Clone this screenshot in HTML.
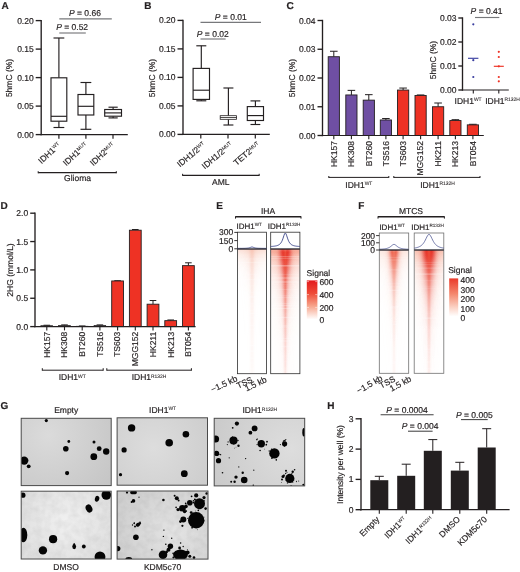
<!DOCTYPE html>
<html lang="en"><head><meta charset="utf-8"><title>Figure</title><style>html,body{margin:0;padding:0;background:#fff}svg{display:block}</style></head><body><svg width="520" height="572" viewBox="0 0 520 572" font-family="'Liberation Sans', Arial, Helvetica, sans-serif" text-rendering="geometricPrecision"><defs><linearGradient id="h1_0" x1="0" x2="1" y1="0" y2="0"><stop offset="0.000" stop-color="#f8c4b2" stop-opacity="0.895"/><stop offset="0.042" stop-color="#f8c4b2" stop-opacity="0.911"/><stop offset="0.083" stop-color="#f8c4b2" stop-opacity="0.926"/><stop offset="0.125" stop-color="#f8c4b2" stop-opacity="0.939"/><stop offset="0.167" stop-color="#f8c4b2" stop-opacity="0.952"/><stop offset="0.208" stop-color="#f8c4b2" stop-opacity="0.963"/><stop offset="0.250" stop-color="#f8c4b2" stop-opacity="0.973"/><stop offset="0.292" stop-color="#f8c4b2" stop-opacity="0.981"/><stop offset="0.333" stop-color="#f8c4b2" stop-opacity="0.988"/><stop offset="0.375" stop-color="#f8c4b2" stop-opacity="0.993"/><stop offset="0.417" stop-color="#f8c4b2" stop-opacity="0.997"/><stop offset="0.458" stop-color="#f8c4b2" stop-opacity="0.999"/><stop offset="0.500" stop-color="#f8c4b2" stop-opacity="1.000"/><stop offset="0.542" stop-color="#f8c4b2" stop-opacity="0.999"/><stop offset="0.583" stop-color="#f8c4b2" stop-opacity="0.997"/><stop offset="0.625" stop-color="#f8c4b2" stop-opacity="0.993"/><stop offset="0.667" stop-color="#f8c4b2" stop-opacity="0.988"/><stop offset="0.708" stop-color="#f8c4b2" stop-opacity="0.981"/><stop offset="0.750" stop-color="#f8c4b2" stop-opacity="0.973"/><stop offset="0.792" stop-color="#f8c4b2" stop-opacity="0.963"/><stop offset="0.833" stop-color="#f8c4b2" stop-opacity="0.952"/><stop offset="0.875" stop-color="#f8c4b2" stop-opacity="0.939"/><stop offset="0.917" stop-color="#f8c4b2" stop-opacity="0.926"/><stop offset="0.958" stop-color="#f8c4b2" stop-opacity="0.911"/><stop offset="1.000" stop-color="#f8c4b2" stop-opacity="0.895"/></linearGradient><linearGradient id="m1_0g" x1="0" x2="0" y1="0" y2="1"><stop offset="0.000" stop-color="rgb(140,140,140)"/><stop offset="0.050" stop-color="rgb(70,70,70)"/><stop offset="0.100" stop-color="rgb(35,35,35)"/><stop offset="0.150" stop-color="rgb(17,17,17)"/><stop offset="0.200" stop-color="rgb(9,9,9)"/><stop offset="0.250" stop-color="rgb(4,4,4)"/><stop offset="0.300" stop-color="rgb(2,2,2)"/><stop offset="0.350" stop-color="rgb(1,1,1)"/><stop offset="0.400" stop-color="rgb(1,1,1)"/><stop offset="0.450" stop-color="rgb(0,0,0)"/><stop offset="0.500" stop-color="rgb(0,0,0)"/><stop offset="0.550" stop-color="rgb(0,0,0)"/><stop offset="0.600" stop-color="rgb(0,0,0)"/><stop offset="0.650" stop-color="rgb(0,0,0)"/><stop offset="0.700" stop-color="rgb(0,0,0)"/><stop offset="0.750" stop-color="rgb(0,0,0)"/><stop offset="0.800" stop-color="rgb(0,0,0)"/><stop offset="0.850" stop-color="rgb(0,0,0)"/><stop offset="0.900" stop-color="rgb(0,0,0)"/><stop offset="0.950" stop-color="rgb(0,0,0)"/><stop offset="1.000" stop-color="rgb(0,0,0)"/></linearGradient><mask id="m1_0" maskUnits="userSpaceOnUse" x="237.5" y="249.0" width="29.0" height="124.69999999999999"><rect x="237.5" y="249.0" width="29.0" height="124.69999999999999" fill="url(#m1_0g)"/></mask><linearGradient id="h1_1" x1="0" x2="1" y1="0" y2="0"><stop offset="0.000" stop-color="#f6b29d" stop-opacity="0.006"/><stop offset="0.042" stop-color="#f6b29d" stop-opacity="0.013"/><stop offset="0.083" stop-color="#f6b29d" stop-opacity="0.028"/><stop offset="0.125" stop-color="#f6b29d" stop-opacity="0.055"/><stop offset="0.167" stop-color="#f6b29d" stop-opacity="0.101"/><stop offset="0.208" stop-color="#f6b29d" stop-opacity="0.172"/><stop offset="0.250" stop-color="#f6b29d" stop-opacity="0.275"/><stop offset="0.292" stop-color="#f6b29d" stop-opacity="0.408"/><stop offset="0.333" stop-color="#f6b29d" stop-opacity="0.563"/><stop offset="0.375" stop-color="#f6b29d" stop-opacity="0.724"/><stop offset="0.417" stop-color="#f6b29d" stop-opacity="0.866"/><stop offset="0.458" stop-color="#f6b29d" stop-opacity="0.965"/><stop offset="0.500" stop-color="#f6b29d" stop-opacity="1.000"/><stop offset="0.542" stop-color="#f6b29d" stop-opacity="0.965"/><stop offset="0.583" stop-color="#f6b29d" stop-opacity="0.866"/><stop offset="0.625" stop-color="#f6b29d" stop-opacity="0.724"/><stop offset="0.667" stop-color="#f6b29d" stop-opacity="0.563"/><stop offset="0.708" stop-color="#f6b29d" stop-opacity="0.408"/><stop offset="0.750" stop-color="#f6b29d" stop-opacity="0.275"/><stop offset="0.792" stop-color="#f6b29d" stop-opacity="0.172"/><stop offset="0.833" stop-color="#f6b29d" stop-opacity="0.101"/><stop offset="0.875" stop-color="#f6b29d" stop-opacity="0.055"/><stop offset="0.917" stop-color="#f6b29d" stop-opacity="0.028"/><stop offset="0.958" stop-color="#f6b29d" stop-opacity="0.013"/><stop offset="1.000" stop-color="#f6b29d" stop-opacity="0.006"/></linearGradient><linearGradient id="m1_1g" x1="0" x2="0" y1="0" y2="1"><stop offset="0.000" stop-color="rgb(76,76,76)"/><stop offset="0.050" stop-color="rgb(57,57,57)"/><stop offset="0.100" stop-color="rgb(42,42,42)"/><stop offset="0.150" stop-color="rgb(31,31,31)"/><stop offset="0.200" stop-color="rgb(23,23,23)"/><stop offset="0.250" stop-color="rgb(17,17,17)"/><stop offset="0.300" stop-color="rgb(13,13,13)"/><stop offset="0.350" stop-color="rgb(9,9,9)"/><stop offset="0.400" stop-color="rgb(7,7,7)"/><stop offset="0.450" stop-color="rgb(5,5,5)"/><stop offset="0.500" stop-color="rgb(4,4,4)"/><stop offset="0.550" stop-color="rgb(3,3,3)"/><stop offset="0.600" stop-color="rgb(2,2,2)"/><stop offset="0.650" stop-color="rgb(2,2,2)"/><stop offset="0.700" stop-color="rgb(1,1,1)"/><stop offset="0.750" stop-color="rgb(1,1,1)"/><stop offset="0.800" stop-color="rgb(1,1,1)"/><stop offset="0.850" stop-color="rgb(0,0,0)"/><stop offset="0.900" stop-color="rgb(0,0,0)"/><stop offset="0.950" stop-color="rgb(0,0,0)"/><stop offset="1.000" stop-color="rgb(0,0,0)"/></linearGradient><mask id="m1_1" maskUnits="userSpaceOnUse" x="237.5" y="249.0" width="29.0" height="124.69999999999999"><rect x="237.5" y="249.0" width="29.0" height="124.69999999999999" fill="url(#m1_1g)"/></mask><linearGradient id="h1_2" x1="0" x2="1" y1="0" y2="0"><stop offset="0.000" stop-color="#f4a58e" stop-opacity="0.000"/><stop offset="0.042" stop-color="#f4a58e" stop-opacity="0.000"/><stop offset="0.083" stop-color="#f4a58e" stop-opacity="0.000"/><stop offset="0.125" stop-color="#f4a58e" stop-opacity="0.000"/><stop offset="0.167" stop-color="#f4a58e" stop-opacity="0.000"/><stop offset="0.208" stop-color="#f4a58e" stop-opacity="0.000"/><stop offset="0.250" stop-color="#f4a58e" stop-opacity="0.000"/><stop offset="0.292" stop-color="#f4a58e" stop-opacity="0.000"/><stop offset="0.333" stop-color="#f4a58e" stop-opacity="0.003"/><stop offset="0.375" stop-color="#f4a58e" stop-opacity="0.041"/><stop offset="0.417" stop-color="#f4a58e" stop-opacity="0.242"/><stop offset="0.458" stop-color="#f4a58e" stop-opacity="0.702"/><stop offset="0.500" stop-color="#f4a58e" stop-opacity="1.000"/><stop offset="0.542" stop-color="#f4a58e" stop-opacity="0.702"/><stop offset="0.583" stop-color="#f4a58e" stop-opacity="0.242"/><stop offset="0.625" stop-color="#f4a58e" stop-opacity="0.041"/><stop offset="0.667" stop-color="#f4a58e" stop-opacity="0.003"/><stop offset="0.708" stop-color="#f4a58e" stop-opacity="0.000"/><stop offset="0.750" stop-color="#f4a58e" stop-opacity="0.000"/><stop offset="0.792" stop-color="#f4a58e" stop-opacity="0.000"/><stop offset="0.833" stop-color="#f4a58e" stop-opacity="0.000"/><stop offset="0.875" stop-color="#f4a58e" stop-opacity="0.000"/><stop offset="0.917" stop-color="#f4a58e" stop-opacity="0.000"/><stop offset="0.958" stop-color="#f4a58e" stop-opacity="0.000"/><stop offset="1.000" stop-color="#f4a58e" stop-opacity="0.000"/></linearGradient><linearGradient id="m1_2g" x1="0" x2="0" y1="0" y2="1"><stop offset="0.000" stop-color="rgb(82,82,82)"/><stop offset="0.050" stop-color="rgb(73,73,73)"/><stop offset="0.100" stop-color="rgb(66,66,66)"/><stop offset="0.150" stop-color="rgb(59,59,59)"/><stop offset="0.200" stop-color="rgb(54,54,54)"/><stop offset="0.250" stop-color="rgb(48,48,48)"/><stop offset="0.300" stop-color="rgb(44,44,44)"/><stop offset="0.350" stop-color="rgb(40,40,40)"/><stop offset="0.400" stop-color="rgb(36,36,36)"/><stop offset="0.450" stop-color="rgb(33,33,33)"/><stop offset="0.500" stop-color="rgb(31,31,31)"/><stop offset="0.550" stop-color="rgb(28,28,28)"/><stop offset="0.600" stop-color="rgb(26,26,26)"/><stop offset="0.650" stop-color="rgb(24,24,24)"/><stop offset="0.700" stop-color="rgb(23,23,23)"/><stop offset="0.750" stop-color="rgb(21,21,21)"/><stop offset="0.800" stop-color="rgb(20,20,20)"/><stop offset="0.850" stop-color="rgb(19,19,19)"/><stop offset="0.900" stop-color="rgb(18,18,18)"/><stop offset="0.950" stop-color="rgb(17,17,17)"/><stop offset="1.000" stop-color="rgb(16,16,16)"/></linearGradient><mask id="m1_2" maskUnits="userSpaceOnUse" x="237.5" y="249.0" width="29.0" height="124.69999999999999"><rect x="237.5" y="249.0" width="29.0" height="124.69999999999999" fill="url(#m1_2g)"/></mask><linearGradient id="h2_0" x1="0" x2="1" y1="0" y2="0"><stop offset="0.000" stop-color="#f6957f" stop-opacity="0.895"/><stop offset="0.042" stop-color="#f6957f" stop-opacity="0.911"/><stop offset="0.083" stop-color="#f6957f" stop-opacity="0.926"/><stop offset="0.125" stop-color="#f6957f" stop-opacity="0.939"/><stop offset="0.167" stop-color="#f6957f" stop-opacity="0.952"/><stop offset="0.208" stop-color="#f6957f" stop-opacity="0.963"/><stop offset="0.250" stop-color="#f6957f" stop-opacity="0.973"/><stop offset="0.292" stop-color="#f6957f" stop-opacity="0.981"/><stop offset="0.333" stop-color="#f6957f" stop-opacity="0.988"/><stop offset="0.375" stop-color="#f6957f" stop-opacity="0.993"/><stop offset="0.417" stop-color="#f6957f" stop-opacity="0.997"/><stop offset="0.458" stop-color="#f6957f" stop-opacity="0.999"/><stop offset="0.500" stop-color="#f6957f" stop-opacity="1.000"/><stop offset="0.542" stop-color="#f6957f" stop-opacity="0.999"/><stop offset="0.583" stop-color="#f6957f" stop-opacity="0.997"/><stop offset="0.625" stop-color="#f6957f" stop-opacity="0.993"/><stop offset="0.667" stop-color="#f6957f" stop-opacity="0.988"/><stop offset="0.708" stop-color="#f6957f" stop-opacity="0.981"/><stop offset="0.750" stop-color="#f6957f" stop-opacity="0.973"/><stop offset="0.792" stop-color="#f6957f" stop-opacity="0.963"/><stop offset="0.833" stop-color="#f6957f" stop-opacity="0.952"/><stop offset="0.875" stop-color="#f6957f" stop-opacity="0.939"/><stop offset="0.917" stop-color="#f6957f" stop-opacity="0.926"/><stop offset="0.958" stop-color="#f6957f" stop-opacity="0.911"/><stop offset="1.000" stop-color="#f6957f" stop-opacity="0.895"/></linearGradient><linearGradient id="m2_0g" x1="0" x2="0" y1="0" y2="1"><stop offset="0.000" stop-color="rgb(255,255,255)"/><stop offset="0.050" stop-color="rgb(163,163,163)"/><stop offset="0.100" stop-color="rgb(104,104,104)"/><stop offset="0.150" stop-color="rgb(66,66,66)"/><stop offset="0.200" stop-color="rgb(42,42,42)"/><stop offset="0.250" stop-color="rgb(27,27,27)"/><stop offset="0.300" stop-color="rgb(17,17,17)"/><stop offset="0.350" stop-color="rgb(11,11,11)"/><stop offset="0.400" stop-color="rgb(7,7,7)"/><stop offset="0.450" stop-color="rgb(4,4,4)"/><stop offset="0.500" stop-color="rgb(3,3,3)"/><stop offset="0.550" stop-color="rgb(2,2,2)"/><stop offset="0.600" stop-color="rgb(1,1,1)"/><stop offset="0.650" stop-color="rgb(1,1,1)"/><stop offset="0.700" stop-color="rgb(0,0,0)"/><stop offset="0.750" stop-color="rgb(0,0,0)"/><stop offset="0.800" stop-color="rgb(0,0,0)"/><stop offset="0.850" stop-color="rgb(0,0,0)"/><stop offset="0.900" stop-color="rgb(0,0,0)"/><stop offset="0.950" stop-color="rgb(0,0,0)"/><stop offset="1.000" stop-color="rgb(0,0,0)"/></linearGradient><mask id="m2_0" maskUnits="userSpaceOnUse" x="270.7" y="249.0" width="29.19999999999999" height="124.69999999999999"><rect x="270.7" y="249.0" width="29.19999999999999" height="124.69999999999999" fill="url(#m2_0g)"/></mask><linearGradient id="h2_1" x1="0" x2="1" y1="0" y2="0"><stop offset="0.000" stop-color="#f8b09c" stop-opacity="0.115"/><stop offset="0.042" stop-color="#f8b09c" stop-opacity="0.162"/><stop offset="0.083" stop-color="#f8b09c" stop-opacity="0.223"/><stop offset="0.125" stop-color="#f8b09c" stop-opacity="0.296"/><stop offset="0.167" stop-color="#f8b09c" stop-opacity="0.382"/><stop offset="0.208" stop-color="#f8b09c" stop-opacity="0.479"/><stop offset="0.250" stop-color="#f8b09c" stop-opacity="0.582"/><stop offset="0.292" stop-color="#f8b09c" stop-opacity="0.687"/><stop offset="0.333" stop-color="#f8b09c" stop-opacity="0.786"/><stop offset="0.375" stop-color="#f8b09c" stop-opacity="0.874"/><stop offset="0.417" stop-color="#f8b09c" stop-opacity="0.942"/><stop offset="0.458" stop-color="#f8b09c" stop-opacity="0.985"/><stop offset="0.500" stop-color="#f8b09c" stop-opacity="1.000"/><stop offset="0.542" stop-color="#f8b09c" stop-opacity="0.985"/><stop offset="0.583" stop-color="#f8b09c" stop-opacity="0.942"/><stop offset="0.625" stop-color="#f8b09c" stop-opacity="0.874"/><stop offset="0.667" stop-color="#f8b09c" stop-opacity="0.786"/><stop offset="0.708" stop-color="#f8b09c" stop-opacity="0.687"/><stop offset="0.750" stop-color="#f8b09c" stop-opacity="0.582"/><stop offset="0.792" stop-color="#f8b09c" stop-opacity="0.479"/><stop offset="0.833" stop-color="#f8b09c" stop-opacity="0.382"/><stop offset="0.875" stop-color="#f8b09c" stop-opacity="0.296"/><stop offset="0.917" stop-color="#f8b09c" stop-opacity="0.223"/><stop offset="0.958" stop-color="#f8b09c" stop-opacity="0.162"/><stop offset="1.000" stop-color="#f8b09c" stop-opacity="0.115"/></linearGradient><linearGradient id="m2_1g" x1="0" x2="0" y1="0" y2="1"><stop offset="0.000" stop-color="rgb(140,140,140)"/><stop offset="0.050" stop-color="rgb(120,120,120)"/><stop offset="0.100" stop-color="rgb(102,102,102)"/><stop offset="0.150" stop-color="rgb(87,87,87)"/><stop offset="0.200" stop-color="rgb(74,74,74)"/><stop offset="0.250" stop-color="rgb(63,63,63)"/><stop offset="0.300" stop-color="rgb(54,54,54)"/><stop offset="0.350" stop-color="rgb(46,46,46)"/><stop offset="0.400" stop-color="rgb(39,39,39)"/><stop offset="0.450" stop-color="rgb(33,33,33)"/><stop offset="0.500" stop-color="rgb(28,28,28)"/><stop offset="0.550" stop-color="rgb(24,24,24)"/><stop offset="0.600" stop-color="rgb(21,21,21)"/><stop offset="0.650" stop-color="rgb(18,18,18)"/><stop offset="0.700" stop-color="rgb(15,15,15)"/><stop offset="0.750" stop-color="rgb(13,13,13)"/><stop offset="0.800" stop-color="rgb(11,11,11)"/><stop offset="0.850" stop-color="rgb(9,9,9)"/><stop offset="0.900" stop-color="rgb(8,8,8)"/><stop offset="0.950" stop-color="rgb(7,7,7)"/><stop offset="1.000" stop-color="rgb(6,6,6)"/></linearGradient><mask id="m2_1" maskUnits="userSpaceOnUse" x="270.7" y="249.0" width="29.19999999999999" height="124.69999999999999"><rect x="270.7" y="249.0" width="29.19999999999999" height="124.69999999999999" fill="url(#m2_1g)"/></mask><linearGradient id="h2_2" x1="0" x2="1" y1="0" y2="0"><stop offset="0.000" stop-color="#e3241d" stop-opacity="0.000"/><stop offset="0.042" stop-color="#e3241d" stop-opacity="0.000"/><stop offset="0.083" stop-color="#e3241d" stop-opacity="0.001"/><stop offset="0.125" stop-color="#e3241d" stop-opacity="0.006"/><stop offset="0.167" stop-color="#e3241d" stop-opacity="0.023"/><stop offset="0.208" stop-color="#e3241d" stop-opacity="0.069"/><stop offset="0.250" stop-color="#e3241d" stop-opacity="0.168"/><stop offset="0.292" stop-color="#e3241d" stop-opacity="0.329"/><stop offset="0.333" stop-color="#e3241d" stop-opacity="0.537"/><stop offset="0.375" stop-color="#e3241d" stop-opacity="0.745"/><stop offset="0.417" stop-color="#e3241d" stop-opacity="0.902"/><stop offset="0.458" stop-color="#e3241d" stop-opacity="0.983"/><stop offset="0.500" stop-color="#e3241d" stop-opacity="1.000"/><stop offset="0.542" stop-color="#e3241d" stop-opacity="0.983"/><stop offset="0.583" stop-color="#e3241d" stop-opacity="0.902"/><stop offset="0.625" stop-color="#e3241d" stop-opacity="0.745"/><stop offset="0.667" stop-color="#e3241d" stop-opacity="0.537"/><stop offset="0.708" stop-color="#e3241d" stop-opacity="0.329"/><stop offset="0.750" stop-color="#e3241d" stop-opacity="0.168"/><stop offset="0.792" stop-color="#e3241d" stop-opacity="0.069"/><stop offset="0.833" stop-color="#e3241d" stop-opacity="0.023"/><stop offset="0.875" stop-color="#e3241d" stop-opacity="0.006"/><stop offset="0.917" stop-color="#e3241d" stop-opacity="0.001"/><stop offset="0.958" stop-color="#e3241d" stop-opacity="0.000"/><stop offset="1.000" stop-color="#e3241d" stop-opacity="0.000"/></linearGradient><linearGradient id="m2_2g" x1="0" x2="0" y1="0" y2="1"><stop offset="0.000" stop-color="rgb(255,255,255)"/><stop offset="0.050" stop-color="rgb(214,214,214)"/><stop offset="0.100" stop-color="rgb(143,143,143)"/><stop offset="0.150" stop-color="rgb(96,96,96)"/><stop offset="0.200" stop-color="rgb(64,64,64)"/><stop offset="0.250" stop-color="rgb(43,43,43)"/><stop offset="0.300" stop-color="rgb(29,29,29)"/><stop offset="0.350" stop-color="rgb(19,19,19)"/><stop offset="0.400" stop-color="rgb(13,13,13)"/><stop offset="0.450" stop-color="rgb(9,9,9)"/><stop offset="0.500" stop-color="rgb(6,6,6)"/><stop offset="0.550" stop-color="rgb(4,4,4)"/><stop offset="0.600" stop-color="rgb(3,3,3)"/><stop offset="0.650" stop-color="rgb(2,2,2)"/><stop offset="0.700" stop-color="rgb(1,1,1)"/><stop offset="0.750" stop-color="rgb(1,1,1)"/><stop offset="0.800" stop-color="rgb(1,1,1)"/><stop offset="0.850" stop-color="rgb(0,0,0)"/><stop offset="0.900" stop-color="rgb(0,0,0)"/><stop offset="0.950" stop-color="rgb(0,0,0)"/><stop offset="1.000" stop-color="rgb(0,0,0)"/></linearGradient><mask id="m2_2" maskUnits="userSpaceOnUse" x="270.7" y="249.0" width="29.19999999999999" height="124.69999999999999"><rect x="270.7" y="249.0" width="29.19999999999999" height="124.69999999999999" fill="url(#m2_2g)"/></mask><linearGradient id="h2_3" x1="0" x2="1" y1="0" y2="0"><stop offset="0.000" stop-color="#e8382b" stop-opacity="0.000"/><stop offset="0.042" stop-color="#e8382b" stop-opacity="0.000"/><stop offset="0.083" stop-color="#e8382b" stop-opacity="0.000"/><stop offset="0.125" stop-color="#e8382b" stop-opacity="0.000"/><stop offset="0.167" stop-color="#e8382b" stop-opacity="0.000"/><stop offset="0.208" stop-color="#e8382b" stop-opacity="0.000"/><stop offset="0.250" stop-color="#e8382b" stop-opacity="0.001"/><stop offset="0.292" stop-color="#e8382b" stop-opacity="0.008"/><stop offset="0.333" stop-color="#e8382b" stop-opacity="0.046"/><stop offset="0.375" stop-color="#e8382b" stop-opacity="0.177"/><stop offset="0.417" stop-color="#e8382b" stop-opacity="0.463"/><stop offset="0.458" stop-color="#e8382b" stop-opacity="0.825"/><stop offset="0.500" stop-color="#e8382b" stop-opacity="1.000"/><stop offset="0.542" stop-color="#e8382b" stop-opacity="0.825"/><stop offset="0.583" stop-color="#e8382b" stop-opacity="0.463"/><stop offset="0.625" stop-color="#e8382b" stop-opacity="0.177"/><stop offset="0.667" stop-color="#e8382b" stop-opacity="0.046"/><stop offset="0.708" stop-color="#e8382b" stop-opacity="0.008"/><stop offset="0.750" stop-color="#e8382b" stop-opacity="0.001"/><stop offset="0.792" stop-color="#e8382b" stop-opacity="0.000"/><stop offset="0.833" stop-color="#e8382b" stop-opacity="0.000"/><stop offset="0.875" stop-color="#e8382b" stop-opacity="0.000"/><stop offset="0.917" stop-color="#e8382b" stop-opacity="0.000"/><stop offset="0.958" stop-color="#e8382b" stop-opacity="0.000"/><stop offset="1.000" stop-color="#e8382b" stop-opacity="0.000"/></linearGradient><linearGradient id="m2_3g" x1="0" x2="0" y1="0" y2="1"><stop offset="0.000" stop-color="rgb(255,255,255)"/><stop offset="0.050" stop-color="rgb(215,215,215)"/><stop offset="0.100" stop-color="rgb(182,182,182)"/><stop offset="0.150" stop-color="rgb(153,153,153)"/><stop offset="0.200" stop-color="rgb(129,129,129)"/><stop offset="0.250" stop-color="rgb(109,109,109)"/><stop offset="0.300" stop-color="rgb(92,92,92)"/><stop offset="0.350" stop-color="rgb(78,78,78)"/><stop offset="0.400" stop-color="rgb(65,65,65)"/><stop offset="0.450" stop-color="rgb(55,55,55)"/><stop offset="0.500" stop-color="rgb(47,47,47)"/><stop offset="0.550" stop-color="rgb(39,39,39)"/><stop offset="0.600" stop-color="rgb(33,33,33)"/><stop offset="0.650" stop-color="rgb(28,28,28)"/><stop offset="0.700" stop-color="rgb(24,24,24)"/><stop offset="0.750" stop-color="rgb(20,20,20)"/><stop offset="0.800" stop-color="rgb(17,17,17)"/><stop offset="0.850" stop-color="rgb(14,14,14)"/><stop offset="0.900" stop-color="rgb(12,12,12)"/><stop offset="0.950" stop-color="rgb(10,10,10)"/><stop offset="1.000" stop-color="rgb(9,9,9)"/></linearGradient><mask id="m2_3" maskUnits="userSpaceOnUse" x="270.7" y="249.0" width="29.19999999999999" height="124.69999999999999"><rect x="270.7" y="249.0" width="29.19999999999999" height="124.69999999999999" fill="url(#m2_3g)"/></mask><linearGradient id="h2_4" x1="0" x2="1" y1="0" y2="0"><stop offset="0.000" stop-color="#ee5540" stop-opacity="0.000"/><stop offset="0.042" stop-color="#ee5540" stop-opacity="0.000"/><stop offset="0.083" stop-color="#ee5540" stop-opacity="0.000"/><stop offset="0.125" stop-color="#ee5540" stop-opacity="0.000"/><stop offset="0.167" stop-color="#ee5540" stop-opacity="0.000"/><stop offset="0.208" stop-color="#ee5540" stop-opacity="0.000"/><stop offset="0.250" stop-color="#ee5540" stop-opacity="0.000"/><stop offset="0.292" stop-color="#ee5540" stop-opacity="0.000"/><stop offset="0.333" stop-color="#ee5540" stop-opacity="0.000"/><stop offset="0.375" stop-color="#ee5540" stop-opacity="0.000"/><stop offset="0.417" stop-color="#ee5540" stop-opacity="0.013"/><stop offset="0.458" stop-color="#ee5540" stop-opacity="0.338"/><stop offset="0.500" stop-color="#ee5540" stop-opacity="1.000"/><stop offset="0.542" stop-color="#ee5540" stop-opacity="0.338"/><stop offset="0.583" stop-color="#ee5540" stop-opacity="0.013"/><stop offset="0.625" stop-color="#ee5540" stop-opacity="0.000"/><stop offset="0.667" stop-color="#ee5540" stop-opacity="0.000"/><stop offset="0.708" stop-color="#ee5540" stop-opacity="0.000"/><stop offset="0.750" stop-color="#ee5540" stop-opacity="0.000"/><stop offset="0.792" stop-color="#ee5540" stop-opacity="0.000"/><stop offset="0.833" stop-color="#ee5540" stop-opacity="0.000"/><stop offset="0.875" stop-color="#ee5540" stop-opacity="0.000"/><stop offset="0.917" stop-color="#ee5540" stop-opacity="0.000"/><stop offset="0.958" stop-color="#ee5540" stop-opacity="0.000"/><stop offset="1.000" stop-color="#ee5540" stop-opacity="0.000"/></linearGradient><linearGradient id="m2_4g" x1="0" x2="0" y1="0" y2="1"><stop offset="0.000" stop-color="rgb(217,217,217)"/><stop offset="0.050" stop-color="rgb(192,192,192)"/><stop offset="0.100" stop-color="rgb(170,170,170)"/><stop offset="0.150" stop-color="rgb(151,151,151)"/><stop offset="0.200" stop-color="rgb(134,134,134)"/><stop offset="0.250" stop-color="rgb(119,119,119)"/><stop offset="0.300" stop-color="rgb(106,106,106)"/><stop offset="0.350" stop-color="rgb(95,95,95)"/><stop offset="0.400" stop-color="rgb(85,85,85)"/><stop offset="0.450" stop-color="rgb(76,76,76)"/><stop offset="0.500" stop-color="rgb(68,68,68)"/><stop offset="0.550" stop-color="rgb(62,62,62)"/><stop offset="0.600" stop-color="rgb(56,56,56)"/><stop offset="0.650" stop-color="rgb(50,50,50)"/><stop offset="0.700" stop-color="rgb(46,46,46)"/><stop offset="0.750" stop-color="rgb(42,42,42)"/><stop offset="0.800" stop-color="rgb(38,38,38)"/><stop offset="0.850" stop-color="rgb(35,35,35)"/><stop offset="0.900" stop-color="rgb(32,32,32)"/><stop offset="0.950" stop-color="rgb(30,30,30)"/><stop offset="1.000" stop-color="rgb(28,28,28)"/></linearGradient><mask id="m2_4" maskUnits="userSpaceOnUse" x="270.7" y="249.0" width="29.19999999999999" height="124.69999999999999"><rect x="270.7" y="249.0" width="29.19999999999999" height="124.69999999999999" fill="url(#m2_4g)"/></mask><linearGradient id="legE" x1="0" x2="0" y1="0" y2="1"><stop offset="0" stop-color="#e3191c"/><stop offset="0.33" stop-color="#ee4a36"/><stop offset="0.66" stop-color="#f7a58c"/><stop offset="1" stop-color="#fff"/></linearGradient><linearGradient id="h3_0" x1="0" x2="1" y1="0" y2="0"><stop offset="0.000" stop-color="#f9c7b6" stop-opacity="0.895"/><stop offset="0.042" stop-color="#f9c7b6" stop-opacity="0.911"/><stop offset="0.083" stop-color="#f9c7b6" stop-opacity="0.926"/><stop offset="0.125" stop-color="#f9c7b6" stop-opacity="0.939"/><stop offset="0.167" stop-color="#f9c7b6" stop-opacity="0.952"/><stop offset="0.208" stop-color="#f9c7b6" stop-opacity="0.963"/><stop offset="0.250" stop-color="#f9c7b6" stop-opacity="0.973"/><stop offset="0.292" stop-color="#f9c7b6" stop-opacity="0.981"/><stop offset="0.333" stop-color="#f9c7b6" stop-opacity="0.988"/><stop offset="0.375" stop-color="#f9c7b6" stop-opacity="0.993"/><stop offset="0.417" stop-color="#f9c7b6" stop-opacity="0.997"/><stop offset="0.458" stop-color="#f9c7b6" stop-opacity="0.999"/><stop offset="0.500" stop-color="#f9c7b6" stop-opacity="1.000"/><stop offset="0.542" stop-color="#f9c7b6" stop-opacity="0.999"/><stop offset="0.583" stop-color="#f9c7b6" stop-opacity="0.997"/><stop offset="0.625" stop-color="#f9c7b6" stop-opacity="0.993"/><stop offset="0.667" stop-color="#f9c7b6" stop-opacity="0.988"/><stop offset="0.708" stop-color="#f9c7b6" stop-opacity="0.981"/><stop offset="0.750" stop-color="#f9c7b6" stop-opacity="0.973"/><stop offset="0.792" stop-color="#f9c7b6" stop-opacity="0.963"/><stop offset="0.833" stop-color="#f9c7b6" stop-opacity="0.952"/><stop offset="0.875" stop-color="#f9c7b6" stop-opacity="0.939"/><stop offset="0.917" stop-color="#f9c7b6" stop-opacity="0.926"/><stop offset="0.958" stop-color="#f9c7b6" stop-opacity="0.911"/><stop offset="1.000" stop-color="#f9c7b6" stop-opacity="0.895"/></linearGradient><linearGradient id="m3_0g" x1="0" x2="0" y1="0" y2="1"><stop offset="0.000" stop-color="rgb(115,115,115)"/><stop offset="0.050" stop-color="rgb(70,70,70)"/><stop offset="0.100" stop-color="rgb(42,42,42)"/><stop offset="0.150" stop-color="rgb(26,26,26)"/><stop offset="0.200" stop-color="rgb(16,16,16)"/><stop offset="0.250" stop-color="rgb(9,9,9)"/><stop offset="0.300" stop-color="rgb(6,6,6)"/><stop offset="0.350" stop-color="rgb(3,3,3)"/><stop offset="0.400" stop-color="rgb(2,2,2)"/><stop offset="0.450" stop-color="rgb(1,1,1)"/><stop offset="0.500" stop-color="rgb(1,1,1)"/><stop offset="0.550" stop-color="rgb(0,0,0)"/><stop offset="0.600" stop-color="rgb(0,0,0)"/><stop offset="0.650" stop-color="rgb(0,0,0)"/><stop offset="0.700" stop-color="rgb(0,0,0)"/><stop offset="0.750" stop-color="rgb(0,0,0)"/><stop offset="0.800" stop-color="rgb(0,0,0)"/><stop offset="0.850" stop-color="rgb(0,0,0)"/><stop offset="0.900" stop-color="rgb(0,0,0)"/><stop offset="0.950" stop-color="rgb(0,0,0)"/><stop offset="1.000" stop-color="rgb(0,0,0)"/></linearGradient><mask id="m3_0" maskUnits="userSpaceOnUse" x="379.3" y="250.0" width="29.399999999999977" height="123.30000000000001"><rect x="379.3" y="250.0" width="29.399999999999977" height="123.30000000000001" fill="url(#m3_0g)"/></mask><linearGradient id="h3_1" x1="0" x2="1" y1="0" y2="0"><stop offset="0.000" stop-color="#f9bdab" stop-opacity="0.013"/><stop offset="0.042" stop-color="#f9bdab" stop-opacity="0.026"/><stop offset="0.083" stop-color="#f9bdab" stop-opacity="0.049"/><stop offset="0.125" stop-color="#f9bdab" stop-opacity="0.087"/><stop offset="0.167" stop-color="#f9bdab" stop-opacity="0.145"/><stop offset="0.208" stop-color="#f9bdab" stop-opacity="0.228"/><stop offset="0.250" stop-color="#f9bdab" stop-opacity="0.338"/><stop offset="0.292" stop-color="#f9bdab" stop-opacity="0.471"/><stop offset="0.333" stop-color="#f9bdab" stop-opacity="0.617"/><stop offset="0.375" stop-color="#f9bdab" stop-opacity="0.762"/><stop offset="0.417" stop-color="#f9bdab" stop-opacity="0.886"/><stop offset="0.458" stop-color="#f9bdab" stop-opacity="0.970"/><stop offset="0.500" stop-color="#f9bdab" stop-opacity="1.000"/><stop offset="0.542" stop-color="#f9bdab" stop-opacity="0.970"/><stop offset="0.583" stop-color="#f9bdab" stop-opacity="0.886"/><stop offset="0.625" stop-color="#f9bdab" stop-opacity="0.762"/><stop offset="0.667" stop-color="#f9bdab" stop-opacity="0.617"/><stop offset="0.708" stop-color="#f9bdab" stop-opacity="0.471"/><stop offset="0.750" stop-color="#f9bdab" stop-opacity="0.338"/><stop offset="0.792" stop-color="#f9bdab" stop-opacity="0.228"/><stop offset="0.833" stop-color="#f9bdab" stop-opacity="0.145"/><stop offset="0.875" stop-color="#f9bdab" stop-opacity="0.087"/><stop offset="0.917" stop-color="#f9bdab" stop-opacity="0.049"/><stop offset="0.958" stop-color="#f9bdab" stop-opacity="0.026"/><stop offset="1.000" stop-color="#f9bdab" stop-opacity="0.013"/></linearGradient><linearGradient id="m3_1g" x1="0" x2="0" y1="0" y2="1"><stop offset="0.000" stop-color="rgb(102,102,102)"/><stop offset="0.050" stop-color="rgb(84,84,84)"/><stop offset="0.100" stop-color="rgb(68,68,68)"/><stop offset="0.150" stop-color="rgb(56,56,56)"/><stop offset="0.200" stop-color="rgb(46,46,46)"/><stop offset="0.250" stop-color="rgb(38,38,38)"/><stop offset="0.300" stop-color="rgb(31,31,31)"/><stop offset="0.350" stop-color="rgb(25,25,25)"/><stop offset="0.400" stop-color="rgb(21,21,21)"/><stop offset="0.450" stop-color="rgb(17,17,17)"/><stop offset="0.500" stop-color="rgb(14,14,14)"/><stop offset="0.550" stop-color="rgb(11,11,11)"/><stop offset="0.600" stop-color="rgb(9,9,9)"/><stop offset="0.650" stop-color="rgb(8,8,8)"/><stop offset="0.700" stop-color="rgb(6,6,6)"/><stop offset="0.750" stop-color="rgb(5,5,5)"/><stop offset="0.800" stop-color="rgb(4,4,4)"/><stop offset="0.850" stop-color="rgb(3,3,3)"/><stop offset="0.900" stop-color="rgb(3,3,3)"/><stop offset="0.950" stop-color="rgb(2,2,2)"/><stop offset="1.000" stop-color="rgb(2,2,2)"/></linearGradient><mask id="m3_1" maskUnits="userSpaceOnUse" x="379.3" y="250.0" width="29.399999999999977" height="123.30000000000001"><rect x="379.3" y="250.0" width="29.399999999999977" height="123.30000000000001" fill="url(#m3_1g)"/></mask><linearGradient id="h3_2" x1="0" x2="1" y1="0" y2="0"><stop offset="0.000" stop-color="#ea4633" stop-opacity="0.000"/><stop offset="0.042" stop-color="#ea4633" stop-opacity="0.000"/><stop offset="0.083" stop-color="#ea4633" stop-opacity="0.000"/><stop offset="0.125" stop-color="#ea4633" stop-opacity="0.000"/><stop offset="0.167" stop-color="#ea4633" stop-opacity="0.003"/><stop offset="0.208" stop-color="#ea4633" stop-opacity="0.014"/><stop offset="0.250" stop-color="#ea4633" stop-opacity="0.050"/><stop offset="0.292" stop-color="#ea4633" stop-opacity="0.139"/><stop offset="0.333" stop-color="#ea4633" stop-opacity="0.307"/><stop offset="0.375" stop-color="#ea4633" stop-opacity="0.544"/><stop offset="0.417" stop-color="#ea4633" stop-opacity="0.787"/><stop offset="0.458" stop-color="#ea4633" stop-opacity="0.952"/><stop offset="0.500" stop-color="#ea4633" stop-opacity="1.000"/><stop offset="0.542" stop-color="#ea4633" stop-opacity="0.952"/><stop offset="0.583" stop-color="#ea4633" stop-opacity="0.787"/><stop offset="0.625" stop-color="#ea4633" stop-opacity="0.544"/><stop offset="0.667" stop-color="#ea4633" stop-opacity="0.307"/><stop offset="0.708" stop-color="#ea4633" stop-opacity="0.139"/><stop offset="0.750" stop-color="#ea4633" stop-opacity="0.050"/><stop offset="0.792" stop-color="#ea4633" stop-opacity="0.014"/><stop offset="0.833" stop-color="#ea4633" stop-opacity="0.003"/><stop offset="0.875" stop-color="#ea4633" stop-opacity="0.000"/><stop offset="0.917" stop-color="#ea4633" stop-opacity="0.000"/><stop offset="0.958" stop-color="#ea4633" stop-opacity="0.000"/><stop offset="1.000" stop-color="#ea4633" stop-opacity="0.000"/></linearGradient><linearGradient id="m3_2g" x1="0" x2="0" y1="0" y2="1"><stop offset="0.000" stop-color="rgb(255,255,255)"/><stop offset="0.050" stop-color="rgb(171,171,171)"/><stop offset="0.100" stop-color="rgb(109,109,109)"/><stop offset="0.150" stop-color="rgb(69,69,69)"/><stop offset="0.200" stop-color="rgb(44,44,44)"/><stop offset="0.250" stop-color="rgb(28,28,28)"/><stop offset="0.300" stop-color="rgb(18,18,18)"/><stop offset="0.350" stop-color="rgb(11,11,11)"/><stop offset="0.400" stop-color="rgb(7,7,7)"/><stop offset="0.450" stop-color="rgb(5,5,5)"/><stop offset="0.500" stop-color="rgb(3,3,3)"/><stop offset="0.550" stop-color="rgb(2,2,2)"/><stop offset="0.600" stop-color="rgb(1,1,1)"/><stop offset="0.650" stop-color="rgb(1,1,1)"/><stop offset="0.700" stop-color="rgb(0,0,0)"/><stop offset="0.750" stop-color="rgb(0,0,0)"/><stop offset="0.800" stop-color="rgb(0,0,0)"/><stop offset="0.850" stop-color="rgb(0,0,0)"/><stop offset="0.900" stop-color="rgb(0,0,0)"/><stop offset="0.950" stop-color="rgb(0,0,0)"/><stop offset="1.000" stop-color="rgb(0,0,0)"/></linearGradient><mask id="m3_2" maskUnits="userSpaceOnUse" x="379.3" y="250.0" width="29.399999999999977" height="123.30000000000001"><rect x="379.3" y="250.0" width="29.399999999999977" height="123.30000000000001" fill="url(#m3_2g)"/></mask><linearGradient id="h3_3" x1="0" x2="1" y1="0" y2="0"><stop offset="0.000" stop-color="#ee6550" stop-opacity="0.000"/><stop offset="0.042" stop-color="#ee6550" stop-opacity="0.000"/><stop offset="0.083" stop-color="#ee6550" stop-opacity="0.000"/><stop offset="0.125" stop-color="#ee6550" stop-opacity="0.000"/><stop offset="0.167" stop-color="#ee6550" stop-opacity="0.000"/><stop offset="0.208" stop-color="#ee6550" stop-opacity="0.000"/><stop offset="0.250" stop-color="#ee6550" stop-opacity="0.000"/><stop offset="0.292" stop-color="#ee6550" stop-opacity="0.002"/><stop offset="0.333" stop-color="#ee6550" stop-opacity="0.021"/><stop offset="0.375" stop-color="#ee6550" stop-opacity="0.115"/><stop offset="0.417" stop-color="#ee6550" stop-opacity="0.382"/><stop offset="0.458" stop-color="#ee6550" stop-opacity="0.786"/><stop offset="0.500" stop-color="#ee6550" stop-opacity="1.000"/><stop offset="0.542" stop-color="#ee6550" stop-opacity="0.786"/><stop offset="0.583" stop-color="#ee6550" stop-opacity="0.382"/><stop offset="0.625" stop-color="#ee6550" stop-opacity="0.115"/><stop offset="0.667" stop-color="#ee6550" stop-opacity="0.021"/><stop offset="0.708" stop-color="#ee6550" stop-opacity="0.002"/><stop offset="0.750" stop-color="#ee6550" stop-opacity="0.000"/><stop offset="0.792" stop-color="#ee6550" stop-opacity="0.000"/><stop offset="0.833" stop-color="#ee6550" stop-opacity="0.000"/><stop offset="0.875" stop-color="#ee6550" stop-opacity="0.000"/><stop offset="0.917" stop-color="#ee6550" stop-opacity="0.000"/><stop offset="0.958" stop-color="#ee6550" stop-opacity="0.000"/><stop offset="1.000" stop-color="#ee6550" stop-opacity="0.000"/></linearGradient><linearGradient id="m3_3g" x1="0" x2="0" y1="0" y2="1"><stop offset="0.000" stop-color="rgb(217,217,217)"/><stop offset="0.050" stop-color="rgb(164,164,164)"/><stop offset="0.100" stop-color="rgb(124,124,124)"/><stop offset="0.150" stop-color="rgb(94,94,94)"/><stop offset="0.200" stop-color="rgb(71,71,71)"/><stop offset="0.250" stop-color="rgb(53,53,53)"/><stop offset="0.300" stop-color="rgb(40,40,40)"/><stop offset="0.350" stop-color="rgb(31,31,31)"/><stop offset="0.400" stop-color="rgb(23,23,23)"/><stop offset="0.450" stop-color="rgb(17,17,17)"/><stop offset="0.500" stop-color="rgb(13,13,13)"/><stop offset="0.550" stop-color="rgb(10,10,10)"/><stop offset="0.600" stop-color="rgb(8,8,8)"/><stop offset="0.650" stop-color="rgb(6,6,6)"/><stop offset="0.700" stop-color="rgb(4,4,4)"/><stop offset="0.750" stop-color="rgb(3,3,3)"/><stop offset="0.800" stop-color="rgb(2,2,2)"/><stop offset="0.850" stop-color="rgb(2,2,2)"/><stop offset="0.900" stop-color="rgb(1,1,1)"/><stop offset="0.950" stop-color="rgb(1,1,1)"/><stop offset="1.000" stop-color="rgb(1,1,1)"/></linearGradient><mask id="m3_3" maskUnits="userSpaceOnUse" x="379.3" y="250.0" width="29.399999999999977" height="123.30000000000001"><rect x="379.3" y="250.0" width="29.399999999999977" height="123.30000000000001" fill="url(#m3_3g)"/></mask><linearGradient id="h3_4" x1="0" x2="1" y1="0" y2="0"><stop offset="0.000" stop-color="#f28a72" stop-opacity="0.000"/><stop offset="0.042" stop-color="#f28a72" stop-opacity="0.000"/><stop offset="0.083" stop-color="#f28a72" stop-opacity="0.000"/><stop offset="0.125" stop-color="#f28a72" stop-opacity="0.000"/><stop offset="0.167" stop-color="#f28a72" stop-opacity="0.000"/><stop offset="0.208" stop-color="#f28a72" stop-opacity="0.000"/><stop offset="0.250" stop-color="#f28a72" stop-opacity="0.000"/><stop offset="0.292" stop-color="#f28a72" stop-opacity="0.000"/><stop offset="0.333" stop-color="#f28a72" stop-opacity="0.000"/><stop offset="0.375" stop-color="#f28a72" stop-opacity="0.000"/><stop offset="0.417" stop-color="#f28a72" stop-opacity="0.013"/><stop offset="0.458" stop-color="#f28a72" stop-opacity="0.338"/><stop offset="0.500" stop-color="#f28a72" stop-opacity="1.000"/><stop offset="0.542" stop-color="#f28a72" stop-opacity="0.338"/><stop offset="0.583" stop-color="#f28a72" stop-opacity="0.013"/><stop offset="0.625" stop-color="#f28a72" stop-opacity="0.000"/><stop offset="0.667" stop-color="#f28a72" stop-opacity="0.000"/><stop offset="0.708" stop-color="#f28a72" stop-opacity="0.000"/><stop offset="0.750" stop-color="#f28a72" stop-opacity="0.000"/><stop offset="0.792" stop-color="#f28a72" stop-opacity="0.000"/><stop offset="0.833" stop-color="#f28a72" stop-opacity="0.000"/><stop offset="0.875" stop-color="#f28a72" stop-opacity="0.000"/><stop offset="0.917" stop-color="#f28a72" stop-opacity="0.000"/><stop offset="0.958" stop-color="#f28a72" stop-opacity="0.000"/><stop offset="1.000" stop-color="#f28a72" stop-opacity="0.000"/></linearGradient><linearGradient id="m3_4g" x1="0" x2="0" y1="0" y2="1"><stop offset="0.000" stop-color="rgb(150,150,150)"/><stop offset="0.050" stop-color="rgb(132,132,132)"/><stop offset="0.100" stop-color="rgb(116,116,116)"/><stop offset="0.150" stop-color="rgb(102,102,102)"/><stop offset="0.200" stop-color="rgb(90,90,90)"/><stop offset="0.250" stop-color="rgb(80,80,80)"/><stop offset="0.300" stop-color="rgb(71,71,71)"/><stop offset="0.350" stop-color="rgb(63,63,63)"/><stop offset="0.400" stop-color="rgb(56,56,56)"/><stop offset="0.450" stop-color="rgb(50,50,50)"/><stop offset="0.500" stop-color="rgb(45,45,45)"/><stop offset="0.550" stop-color="rgb(40,40,40)"/><stop offset="0.600" stop-color="rgb(36,36,36)"/><stop offset="0.650" stop-color="rgb(33,33,33)"/><stop offset="0.700" stop-color="rgb(30,30,30)"/><stop offset="0.750" stop-color="rgb(27,27,27)"/><stop offset="0.800" stop-color="rgb(25,25,25)"/><stop offset="0.850" stop-color="rgb(23,23,23)"/><stop offset="0.900" stop-color="rgb(21,21,21)"/><stop offset="0.950" stop-color="rgb(20,20,20)"/><stop offset="1.000" stop-color="rgb(19,19,19)"/></linearGradient><mask id="m3_4" maskUnits="userSpaceOnUse" x="379.3" y="250.0" width="29.399999999999977" height="123.30000000000001"><rect x="379.3" y="250.0" width="29.399999999999977" height="123.30000000000001" fill="url(#m3_4g)"/></mask><linearGradient id="h4_0" x1="0" x2="1" y1="0" y2="0"><stop offset="0.000" stop-color="#f8b5a1" stop-opacity="0.895"/><stop offset="0.042" stop-color="#f8b5a1" stop-opacity="0.911"/><stop offset="0.083" stop-color="#f8b5a1" stop-opacity="0.926"/><stop offset="0.125" stop-color="#f8b5a1" stop-opacity="0.939"/><stop offset="0.167" stop-color="#f8b5a1" stop-opacity="0.952"/><stop offset="0.208" stop-color="#f8b5a1" stop-opacity="0.963"/><stop offset="0.250" stop-color="#f8b5a1" stop-opacity="0.973"/><stop offset="0.292" stop-color="#f8b5a1" stop-opacity="0.981"/><stop offset="0.333" stop-color="#f8b5a1" stop-opacity="0.988"/><stop offset="0.375" stop-color="#f8b5a1" stop-opacity="0.993"/><stop offset="0.417" stop-color="#f8b5a1" stop-opacity="0.997"/><stop offset="0.458" stop-color="#f8b5a1" stop-opacity="0.999"/><stop offset="0.500" stop-color="#f8b5a1" stop-opacity="1.000"/><stop offset="0.542" stop-color="#f8b5a1" stop-opacity="0.999"/><stop offset="0.583" stop-color="#f8b5a1" stop-opacity="0.997"/><stop offset="0.625" stop-color="#f8b5a1" stop-opacity="0.993"/><stop offset="0.667" stop-color="#f8b5a1" stop-opacity="0.988"/><stop offset="0.708" stop-color="#f8b5a1" stop-opacity="0.981"/><stop offset="0.750" stop-color="#f8b5a1" stop-opacity="0.973"/><stop offset="0.792" stop-color="#f8b5a1" stop-opacity="0.963"/><stop offset="0.833" stop-color="#f8b5a1" stop-opacity="0.952"/><stop offset="0.875" stop-color="#f8b5a1" stop-opacity="0.939"/><stop offset="0.917" stop-color="#f8b5a1" stop-opacity="0.926"/><stop offset="0.958" stop-color="#f8b5a1" stop-opacity="0.911"/><stop offset="1.000" stop-color="#f8b5a1" stop-opacity="0.895"/></linearGradient><linearGradient id="m4_0g" x1="0" x2="0" y1="0" y2="1"><stop offset="0.000" stop-color="rgb(217,217,217)"/><stop offset="0.050" stop-color="rgb(145,145,145)"/><stop offset="0.100" stop-color="rgb(97,97,97)"/><stop offset="0.150" stop-color="rgb(65,65,65)"/><stop offset="0.200" stop-color="rgb(44,44,44)"/><stop offset="0.250" stop-color="rgb(29,29,29)"/><stop offset="0.300" stop-color="rgb(20,20,20)"/><stop offset="0.350" stop-color="rgb(13,13,13)"/><stop offset="0.400" stop-color="rgb(9,9,9)"/><stop offset="0.450" stop-color="rgb(6,6,6)"/><stop offset="0.500" stop-color="rgb(4,4,4)"/><stop offset="0.550" stop-color="rgb(3,3,3)"/><stop offset="0.600" stop-color="rgb(2,2,2)"/><stop offset="0.650" stop-color="rgb(1,1,1)"/><stop offset="0.700" stop-color="rgb(1,1,1)"/><stop offset="0.750" stop-color="rgb(1,1,1)"/><stop offset="0.800" stop-color="rgb(0,0,0)"/><stop offset="0.850" stop-color="rgb(0,0,0)"/><stop offset="0.900" stop-color="rgb(0,0,0)"/><stop offset="0.950" stop-color="rgb(0,0,0)"/><stop offset="1.000" stop-color="rgb(0,0,0)"/></linearGradient><mask id="m4_0" maskUnits="userSpaceOnUse" x="414.2" y="250.0" width="29.600000000000023" height="123.30000000000001"><rect x="414.2" y="250.0" width="29.600000000000023" height="123.30000000000001" fill="url(#m4_0g)"/></mask><linearGradient id="h4_1" x1="0" x2="1" y1="0" y2="0"><stop offset="0.000" stop-color="#f8b09c" stop-opacity="0.087"/><stop offset="0.042" stop-color="#f8b09c" stop-opacity="0.129"/><stop offset="0.083" stop-color="#f8b09c" stop-opacity="0.184"/><stop offset="0.125" stop-color="#f8b09c" stop-opacity="0.253"/><stop offset="0.167" stop-color="#f8b09c" stop-opacity="0.338"/><stop offset="0.208" stop-color="#f8b09c" stop-opacity="0.436"/><stop offset="0.250" stop-color="#f8b09c" stop-opacity="0.543"/><stop offset="0.292" stop-color="#f8b09c" stop-opacity="0.655"/><stop offset="0.333" stop-color="#f8b09c" stop-opacity="0.762"/><stop offset="0.375" stop-color="#f8b09c" stop-opacity="0.858"/><stop offset="0.417" stop-color="#f8b09c" stop-opacity="0.934"/><stop offset="0.458" stop-color="#f8b09c" stop-opacity="0.983"/><stop offset="0.500" stop-color="#f8b09c" stop-opacity="1.000"/><stop offset="0.542" stop-color="#f8b09c" stop-opacity="0.983"/><stop offset="0.583" stop-color="#f8b09c" stop-opacity="0.934"/><stop offset="0.625" stop-color="#f8b09c" stop-opacity="0.858"/><stop offset="0.667" stop-color="#f8b09c" stop-opacity="0.762"/><stop offset="0.708" stop-color="#f8b09c" stop-opacity="0.655"/><stop offset="0.750" stop-color="#f8b09c" stop-opacity="0.543"/><stop offset="0.792" stop-color="#f8b09c" stop-opacity="0.436"/><stop offset="0.833" stop-color="#f8b09c" stop-opacity="0.338"/><stop offset="0.875" stop-color="#f8b09c" stop-opacity="0.253"/><stop offset="0.917" stop-color="#f8b09c" stop-opacity="0.184"/><stop offset="0.958" stop-color="#f8b09c" stop-opacity="0.129"/><stop offset="1.000" stop-color="#f8b09c" stop-opacity="0.087"/></linearGradient><linearGradient id="m4_1g" x1="0" x2="0" y1="0" y2="1"><stop offset="0.000" stop-color="rgb(128,128,128)"/><stop offset="0.050" stop-color="rgb(108,108,108)"/><stop offset="0.100" stop-color="rgb(91,91,91)"/><stop offset="0.150" stop-color="rgb(77,77,77)"/><stop offset="0.200" stop-color="rgb(65,65,65)"/><stop offset="0.250" stop-color="rgb(54,54,54)"/><stop offset="0.300" stop-color="rgb(46,46,46)"/><stop offset="0.350" stop-color="rgb(39,39,39)"/><stop offset="0.400" stop-color="rgb(33,33,33)"/><stop offset="0.450" stop-color="rgb(28,28,28)"/><stop offset="0.500" stop-color="rgb(23,23,23)"/><stop offset="0.550" stop-color="rgb(20,20,20)"/><stop offset="0.600" stop-color="rgb(17,17,17)"/><stop offset="0.650" stop-color="rgb(14,14,14)"/><stop offset="0.700" stop-color="rgb(12,12,12)"/><stop offset="0.750" stop-color="rgb(10,10,10)"/><stop offset="0.800" stop-color="rgb(8,8,8)"/><stop offset="0.850" stop-color="rgb(7,7,7)"/><stop offset="0.900" stop-color="rgb(6,6,6)"/><stop offset="0.950" stop-color="rgb(5,5,5)"/><stop offset="1.000" stop-color="rgb(4,4,4)"/></linearGradient><mask id="m4_1" maskUnits="userSpaceOnUse" x="414.2" y="250.0" width="29.600000000000023" height="123.30000000000001"><rect x="414.2" y="250.0" width="29.600000000000023" height="123.30000000000001" fill="url(#m4_1g)"/></mask><linearGradient id="h4_2" x1="0" x2="1" y1="0" y2="0"><stop offset="0.000" stop-color="#e3241d" stop-opacity="0.001"/><stop offset="0.042" stop-color="#e3241d" stop-opacity="0.004"/><stop offset="0.083" stop-color="#e3241d" stop-opacity="0.012"/><stop offset="0.125" stop-color="#e3241d" stop-opacity="0.033"/><stop offset="0.167" stop-color="#e3241d" stop-opacity="0.077"/><stop offset="0.208" stop-color="#e3241d" stop-opacity="0.155"/><stop offset="0.250" stop-color="#e3241d" stop-opacity="0.276"/><stop offset="0.292" stop-color="#e3241d" stop-opacity="0.435"/><stop offset="0.333" stop-color="#e3241d" stop-opacity="0.615"/><stop offset="0.375" stop-color="#e3241d" stop-opacity="0.784"/><stop offset="0.417" stop-color="#e3241d" stop-opacity="0.912"/><stop offset="0.458" stop-color="#e3241d" stop-opacity="0.983"/><stop offset="0.500" stop-color="#e3241d" stop-opacity="1.000"/><stop offset="0.542" stop-color="#e3241d" stop-opacity="0.983"/><stop offset="0.583" stop-color="#e3241d" stop-opacity="0.912"/><stop offset="0.625" stop-color="#e3241d" stop-opacity="0.784"/><stop offset="0.667" stop-color="#e3241d" stop-opacity="0.615"/><stop offset="0.708" stop-color="#e3241d" stop-opacity="0.435"/><stop offset="0.750" stop-color="#e3241d" stop-opacity="0.276"/><stop offset="0.792" stop-color="#e3241d" stop-opacity="0.155"/><stop offset="0.833" stop-color="#e3241d" stop-opacity="0.077"/><stop offset="0.875" stop-color="#e3241d" stop-opacity="0.033"/><stop offset="0.917" stop-color="#e3241d" stop-opacity="0.012"/><stop offset="0.958" stop-color="#e3241d" stop-opacity="0.004"/><stop offset="1.000" stop-color="#e3241d" stop-opacity="0.001"/></linearGradient><linearGradient id="m4_2g" x1="0" x2="0" y1="0" y2="1"><stop offset="0.000" stop-color="rgb(255,255,255)"/><stop offset="0.050" stop-color="rgb(210,210,210)"/><stop offset="0.100" stop-color="rgb(145,145,145)"/><stop offset="0.150" stop-color="rgb(99,99,99)"/><stop offset="0.200" stop-color="rgb(68,68,68)"/><stop offset="0.250" stop-color="rgb(47,47,47)"/><stop offset="0.300" stop-color="rgb(32,32,32)"/><stop offset="0.350" stop-color="rgb(22,22,22)"/><stop offset="0.400" stop-color="rgb(15,15,15)"/><stop offset="0.450" stop-color="rgb(10,10,10)"/><stop offset="0.500" stop-color="rgb(7,7,7)"/><stop offset="0.550" stop-color="rgb(5,5,5)"/><stop offset="0.600" stop-color="rgb(3,3,3)"/><stop offset="0.650" stop-color="rgb(2,2,2)"/><stop offset="0.700" stop-color="rgb(2,2,2)"/><stop offset="0.750" stop-color="rgb(1,1,1)"/><stop offset="0.800" stop-color="rgb(1,1,1)"/><stop offset="0.850" stop-color="rgb(1,1,1)"/><stop offset="0.900" stop-color="rgb(0,0,0)"/><stop offset="0.950" stop-color="rgb(0,0,0)"/><stop offset="1.000" stop-color="rgb(0,0,0)"/></linearGradient><mask id="m4_2" maskUnits="userSpaceOnUse" x="414.2" y="250.0" width="29.600000000000023" height="123.30000000000001"><rect x="414.2" y="250.0" width="29.600000000000023" height="123.30000000000001" fill="url(#m4_2g)"/></mask><linearGradient id="h4_3" x1="0" x2="1" y1="0" y2="0"><stop offset="0.000" stop-color="#e8382b" stop-opacity="0.000"/><stop offset="0.042" stop-color="#e8382b" stop-opacity="0.000"/><stop offset="0.083" stop-color="#e8382b" stop-opacity="0.000"/><stop offset="0.125" stop-color="#e8382b" stop-opacity="0.000"/><stop offset="0.167" stop-color="#e8382b" stop-opacity="0.000"/><stop offset="0.208" stop-color="#e8382b" stop-opacity="0.003"/><stop offset="0.250" stop-color="#e8382b" stop-opacity="0.013"/><stop offset="0.292" stop-color="#e8382b" stop-opacity="0.049"/><stop offset="0.333" stop-color="#e8382b" stop-opacity="0.145"/><stop offset="0.375" stop-color="#e8382b" stop-opacity="0.338"/><stop offset="0.417" stop-color="#e8382b" stop-opacity="0.617"/><stop offset="0.458" stop-color="#e8382b" stop-opacity="0.886"/><stop offset="0.500" stop-color="#e8382b" stop-opacity="1.000"/><stop offset="0.542" stop-color="#e8382b" stop-opacity="0.886"/><stop offset="0.583" stop-color="#e8382b" stop-opacity="0.617"/><stop offset="0.625" stop-color="#e8382b" stop-opacity="0.338"/><stop offset="0.667" stop-color="#e8382b" stop-opacity="0.145"/><stop offset="0.708" stop-color="#e8382b" stop-opacity="0.049"/><stop offset="0.750" stop-color="#e8382b" stop-opacity="0.013"/><stop offset="0.792" stop-color="#e8382b" stop-opacity="0.003"/><stop offset="0.833" stop-color="#e8382b" stop-opacity="0.000"/><stop offset="0.875" stop-color="#e8382b" stop-opacity="0.000"/><stop offset="0.917" stop-color="#e8382b" stop-opacity="0.000"/><stop offset="0.958" stop-color="#e8382b" stop-opacity="0.000"/><stop offset="1.000" stop-color="#e8382b" stop-opacity="0.000"/></linearGradient><linearGradient id="m4_3g" x1="0" x2="0" y1="0" y2="1"><stop offset="0.000" stop-color="rgb(255,255,255)"/><stop offset="0.050" stop-color="rgb(201,201,201)"/><stop offset="0.100" stop-color="rgb(158,158,158)"/><stop offset="0.150" stop-color="rgb(124,124,124)"/><stop offset="0.200" stop-color="rgb(98,98,98)"/><stop offset="0.250" stop-color="rgb(77,77,77)"/><stop offset="0.300" stop-color="rgb(60,60,60)"/><stop offset="0.350" stop-color="rgb(48,48,48)"/><stop offset="0.400" stop-color="rgb(37,37,37)"/><stop offset="0.450" stop-color="rgb(29,29,29)"/><stop offset="0.500" stop-color="rgb(23,23,23)"/><stop offset="0.550" stop-color="rgb(18,18,18)"/><stop offset="0.600" stop-color="rgb(14,14,14)"/><stop offset="0.650" stop-color="rgb(11,11,11)"/><stop offset="0.700" stop-color="rgb(9,9,9)"/><stop offset="0.750" stop-color="rgb(7,7,7)"/><stop offset="0.800" stop-color="rgb(5,5,5)"/><stop offset="0.850" stop-color="rgb(4,4,4)"/><stop offset="0.900" stop-color="rgb(3,3,3)"/><stop offset="0.950" stop-color="rgb(3,3,3)"/><stop offset="1.000" stop-color="rgb(2,2,2)"/></linearGradient><mask id="m4_3" maskUnits="userSpaceOnUse" x="414.2" y="250.0" width="29.600000000000023" height="123.30000000000001"><rect x="414.2" y="250.0" width="29.600000000000023" height="123.30000000000001" fill="url(#m4_3g)"/></mask><linearGradient id="h4_4" x1="0" x2="1" y1="0" y2="0"><stop offset="0.000" stop-color="#ee5540" stop-opacity="0.000"/><stop offset="0.042" stop-color="#ee5540" stop-opacity="0.000"/><stop offset="0.083" stop-color="#ee5540" stop-opacity="0.000"/><stop offset="0.125" stop-color="#ee5540" stop-opacity="0.000"/><stop offset="0.167" stop-color="#ee5540" stop-opacity="0.000"/><stop offset="0.208" stop-color="#ee5540" stop-opacity="0.000"/><stop offset="0.250" stop-color="#ee5540" stop-opacity="0.000"/><stop offset="0.292" stop-color="#ee5540" stop-opacity="0.000"/><stop offset="0.333" stop-color="#ee5540" stop-opacity="0.000"/><stop offset="0.375" stop-color="#ee5540" stop-opacity="0.000"/><stop offset="0.417" stop-color="#ee5540" stop-opacity="0.032"/><stop offset="0.458" stop-color="#ee5540" stop-opacity="0.424"/><stop offset="0.500" stop-color="#ee5540" stop-opacity="1.000"/><stop offset="0.542" stop-color="#ee5540" stop-opacity="0.424"/><stop offset="0.583" stop-color="#ee5540" stop-opacity="0.032"/><stop offset="0.625" stop-color="#ee5540" stop-opacity="0.000"/><stop offset="0.667" stop-color="#ee5540" stop-opacity="0.000"/><stop offset="0.708" stop-color="#ee5540" stop-opacity="0.000"/><stop offset="0.750" stop-color="#ee5540" stop-opacity="0.000"/><stop offset="0.792" stop-color="#ee5540" stop-opacity="0.000"/><stop offset="0.833" stop-color="#ee5540" stop-opacity="0.000"/><stop offset="0.875" stop-color="#ee5540" stop-opacity="0.000"/><stop offset="0.917" stop-color="#ee5540" stop-opacity="0.000"/><stop offset="0.958" stop-color="#ee5540" stop-opacity="0.000"/><stop offset="1.000" stop-color="#ee5540" stop-opacity="0.000"/></linearGradient><linearGradient id="m4_4g" x1="0" x2="0" y1="0" y2="1"><stop offset="0.000" stop-color="rgb(189,189,189)"/><stop offset="0.050" stop-color="rgb(167,167,167)"/><stop offset="0.100" stop-color="rgb(148,148,148)"/><stop offset="0.150" stop-color="rgb(131,131,131)"/><stop offset="0.200" stop-color="rgb(116,116,116)"/><stop offset="0.250" stop-color="rgb(103,103,103)"/><stop offset="0.300" stop-color="rgb(92,92,92)"/><stop offset="0.350" stop-color="rgb(82,82,82)"/><stop offset="0.400" stop-color="rgb(73,73,73)"/><stop offset="0.450" stop-color="rgb(66,66,66)"/><stop offset="0.500" stop-color="rgb(59,59,59)"/><stop offset="0.550" stop-color="rgb(53,53,53)"/><stop offset="0.600" stop-color="rgb(48,48,48)"/><stop offset="0.650" stop-color="rgb(43,43,43)"/><stop offset="0.700" stop-color="rgb(39,39,39)"/><stop offset="0.750" stop-color="rgb(36,36,36)"/><stop offset="0.800" stop-color="rgb(33,33,33)"/><stop offset="0.850" stop-color="rgb(30,30,30)"/><stop offset="0.900" stop-color="rgb(27,27,27)"/><stop offset="0.950" stop-color="rgb(25,25,25)"/><stop offset="1.000" stop-color="rgb(23,23,23)"/></linearGradient><mask id="m4_4" maskUnits="userSpaceOnUse" x="414.2" y="250.0" width="29.600000000000023" height="123.30000000000001"><rect x="414.2" y="250.0" width="29.600000000000023" height="123.30000000000001" fill="url(#m4_4g)"/></mask><linearGradient id="legF" x1="0" x2="0" y1="0" y2="1"><stop offset="0" stop-color="#ea3a2a"/><stop offset="0.4" stop-color="#f4866c"/><stop offset="0.75" stop-color="#fbd0c2"/><stop offset="1" stop-color="#fff"/></linearGradient><clipPath id="c1"><rect x="21.2" y="418.3" width="90.0" height="67.3"/></clipPath><radialGradient id="c1r57" gradientUnits="userSpaceOnUse" cx="48.2" cy="435.1" r="85.5"><stop offset="0" stop-color="#dcdcdc" stop-opacity="0.9"/><stop offset="1" stop-color="#c2c2c2" stop-opacity="0.9"/></radialGradient><clipPath id="c2"><rect x="117.1" y="417.8" width="90.4" height="67.4"/></clipPath><radialGradient id="c2r59" gradientUnits="userSpaceOnUse" cx="153.3" cy="448.1" r="76.8"><stop offset="0" stop-color="#dedede" stop-opacity="0.9"/><stop offset="1" stop-color="#c9c9c9" stop-opacity="0.9"/></radialGradient><clipPath id="c3"><rect x="214.2" y="418.3" width="90.5" height="67.6"/></clipPath><radialGradient id="c3r61" gradientUnits="userSpaceOnUse" cx="291.1" cy="448.7" r="90.5"><stop offset="0" stop-color="#dedede" stop-opacity="0.95"/><stop offset="1" stop-color="#c8c8c8" stop-opacity="0.95"/></radialGradient><clipPath id="c4"><rect x="21.2" y="491.2" width="90.0" height="67.8"/></clipPath><radialGradient id="c4r63" gradientUnits="userSpaceOnUse" cx="66.2" cy="521.7" r="76.5"><stop offset="0" stop-color="#f1f1f1" stop-opacity="0.95"/><stop offset="1" stop-color="#d6d6d6" stop-opacity="0.95"/></radialGradient><filter id="c4n" x="0" y="0" width="1" height="1"><feTurbulence type="fractalNoise" baseFrequency="0.14" numOctaves="2" seed="3"/><feColorMatrix type="matrix" values="0 0 0 0 0.35  0 0 0 0 0.35  0 0 0 0 0.35  1.6 0 0 0 -0.55"/></filter><clipPath id="c5"><rect x="117.1" y="491.0" width="90.9" height="68.1"/></clipPath><radialGradient id="c5r66" gradientUnits="userSpaceOnUse" cx="173.5" cy="533.2" r="86.4"><stop offset="0" stop-color="#e4e4e4" stop-opacity="0.95"/><stop offset="1" stop-color="#c4c4c4" stop-opacity="0.95"/></radialGradient><filter id="c5n" x="0" y="0" width="1" height="1"><feTurbulence type="fractalNoise" baseFrequency="0.16" numOctaves="2" seed="8"/><feColorMatrix type="matrix" values="0 0 0 0 0.35  0 0 0 0 0.35  0 0 0 0 0.35  1.6 0 0 0 -0.55"/></filter></defs><rect width="520" height="572" fill="#fff"/><text x="1.60" y="9.00" font-size="10.0" font-weight="bold" fill="#231f20" stroke="#231f20" stroke-width="0.18">A</text>
<line x1="41.20" y1="19.92" x2="41.20" y2="135.28" stroke="#231f20" stroke-width="1.35" stroke-linecap="butt"/>
<line x1="35.70" y1="20.60" x2="41.20" y2="20.60" stroke="#231f20" stroke-width="1.35" stroke-linecap="butt"/>
<text x="33.70" y="23.66" font-size="8.5" text-anchor="end" fill="#231f20" stroke="#231f20" stroke-width="0.18">0.20</text>
<line x1="35.70" y1="49.10" x2="41.20" y2="49.10" stroke="#231f20" stroke-width="1.35" stroke-linecap="butt"/>
<text x="33.70" y="52.16" font-size="8.5" text-anchor="end" fill="#231f20" stroke="#231f20" stroke-width="0.18">0.15</text>
<line x1="35.70" y1="77.60" x2="41.20" y2="77.60" stroke="#231f20" stroke-width="1.35" stroke-linecap="butt"/>
<text x="33.70" y="80.66" font-size="8.5" text-anchor="end" fill="#231f20" stroke="#231f20" stroke-width="0.18">0.10</text>
<line x1="35.70" y1="106.10" x2="41.20" y2="106.10" stroke="#231f20" stroke-width="1.35" stroke-linecap="butt"/>
<text x="33.70" y="109.16" font-size="8.5" text-anchor="end" fill="#231f20" stroke="#231f20" stroke-width="0.18">0.05</text>
<line x1="35.70" y1="134.60" x2="41.20" y2="134.60" stroke="#231f20" stroke-width="1.35" stroke-linecap="butt"/>
<text x="33.70" y="137.66" font-size="8.5" text-anchor="end" fill="#231f20" stroke="#231f20" stroke-width="0.18">0.00</text>
<line x1="40.60" y1="134.60" x2="127.80" y2="134.60" stroke="#231f20" stroke-width="1.35" stroke-linecap="butt"/>
<line x1="58.90" y1="134.60" x2="58.90" y2="138.80" stroke="#231f20" stroke-width="1.2" stroke-linecap="butt"/>
<line x1="85.90" y1="134.60" x2="85.90" y2="138.80" stroke="#231f20" stroke-width="1.2" stroke-linecap="butt"/>
<line x1="113.00" y1="134.60" x2="113.00" y2="138.80" stroke="#231f20" stroke-width="1.2" stroke-linecap="butt"/>
<text x="12.40" y="78.00" font-size="8.5" text-anchor="middle" transform="rotate(-90 12.40 78.00)" fill="#231f20" stroke="#231f20" stroke-width="0.18">5hmC (%)</text>
<line x1="58.90" y1="38.00" x2="58.90" y2="77.80" stroke="#231f20" stroke-width="1.15" stroke-linecap="butt"/>
<line x1="58.90" y1="121.20" x2="58.90" y2="127.50" stroke="#231f20" stroke-width="1.15" stroke-linecap="butt"/>
<line x1="53.50" y1="38.00" x2="64.30" y2="38.00" stroke="#231f20" stroke-width="1.15" stroke-linecap="butt"/>
<line x1="53.50" y1="127.50" x2="64.30" y2="127.50" stroke="#231f20" stroke-width="1.15" stroke-linecap="butt"/>
<rect x="51.00" y="77.80" width="15.80" height="43.40" fill="#fff" stroke="#231f20" stroke-width="1.15" />
<line x1="51.00" y1="116.30" x2="66.80" y2="116.30" stroke="#231f20" stroke-width="1.15" stroke-linecap="butt"/>
<line x1="85.90" y1="82.50" x2="85.90" y2="94.50" stroke="#231f20" stroke-width="1.15" stroke-linecap="butt"/>
<line x1="85.90" y1="115.00" x2="85.90" y2="129.30" stroke="#231f20" stroke-width="1.15" stroke-linecap="butt"/>
<line x1="80.50" y1="82.50" x2="91.30" y2="82.50" stroke="#231f20" stroke-width="1.15" stroke-linecap="butt"/>
<line x1="80.50" y1="129.30" x2="91.30" y2="129.30" stroke="#231f20" stroke-width="1.15" stroke-linecap="butt"/>
<rect x="78.00" y="94.50" width="15.80" height="20.50" fill="#fff" stroke="#231f20" stroke-width="1.15" />
<line x1="78.00" y1="106.30" x2="93.80" y2="106.30" stroke="#231f20" stroke-width="1.15" stroke-linecap="butt"/>
<line x1="113.10" y1="107.20" x2="113.10" y2="109.50" stroke="#231f20" stroke-width="1.15" stroke-linecap="butt"/>
<line x1="113.10" y1="116.20" x2="113.10" y2="117.90" stroke="#231f20" stroke-width="1.15" stroke-linecap="butt"/>
<line x1="108.50" y1="107.20" x2="117.70" y2="107.20" stroke="#231f20" stroke-width="1.15" stroke-linecap="butt"/>
<line x1="108.50" y1="117.90" x2="117.70" y2="117.90" stroke="#231f20" stroke-width="1.15" stroke-linecap="butt"/>
<rect x="104.70" y="109.50" width="16.80" height="6.70" fill="#fff" stroke="#231f20" stroke-width="1.15" />
<line x1="104.70" y1="112.90" x2="121.50" y2="112.90" stroke="#231f20" stroke-width="1.15" stroke-linecap="butt"/>
<line x1="59.30" y1="18.80" x2="111.80" y2="18.80" stroke="#77787b" stroke-width="1.15" stroke-linecap="butt"/>
<text x="69.00" y="16.00" font-size="8.5" fill="#231f20" stroke="#231f20" stroke-width="0.18"><tspan font-style="italic">P</tspan> = 0.66</text>
<line x1="59.30" y1="33.00" x2="85.80" y2="33.00" stroke="#77787b" stroke-width="1.15" stroke-linecap="butt"/>
<text x="56.20" y="30.40" font-size="8.5" fill="#231f20" stroke="#231f20" stroke-width="0.18"><tspan font-style="italic">P</tspan> = 0.52</text>
<text x="61.20" y="145.80" font-size="8.5" text-anchor="end" transform="rotate(-43 61.20 145.80)" fill="#231f20" stroke="#231f20" stroke-width="0.18">IDH1<tspan dy="-2.63" font-size="4.93" stroke-width="0.08">WT</tspan></text>
<text x="88.20" y="145.80" font-size="8.5" text-anchor="end" transform="rotate(-43 88.20 145.80)" fill="#231f20" stroke="#231f20" stroke-width="0.18">IDH1<tspan dy="-2.63" font-size="4.93" stroke-width="0.08">MUT</tspan></text>
<text x="115.30" y="145.80" font-size="8.5" text-anchor="end" transform="rotate(-43 115.30 145.80)" fill="#231f20" stroke="#231f20" stroke-width="0.18">IDH2<tspan dy="-2.63" font-size="4.93" stroke-width="0.08">MUT</tspan></text>
<line x1="38.20" y1="172.70" x2="116.30" y2="172.70" stroke="#231f20" stroke-width="1.2" stroke-linecap="butt"/>
<line x1="38.20" y1="171.20" x2="38.20" y2="173.30" stroke="#231f20" stroke-width="1.0" stroke-linecap="butt"/>
<line x1="116.30" y1="171.20" x2="116.30" y2="173.30" stroke="#231f20" stroke-width="1.0" stroke-linecap="butt"/>
<text x="77.50" y="181.00" font-size="8.5" text-anchor="middle" fill="#231f20" stroke="#231f20" stroke-width="0.18">Glioma</text>
<text x="144.20" y="9.00" font-size="10.0" font-weight="bold" fill="#231f20" stroke="#231f20" stroke-width="0.18">B</text>
<line x1="183.00" y1="19.73" x2="183.00" y2="135.08" stroke="#231f20" stroke-width="1.35" stroke-linecap="butt"/>
<line x1="177.50" y1="20.40" x2="183.00" y2="20.40" stroke="#231f20" stroke-width="1.35" stroke-linecap="butt"/>
<text x="175.50" y="23.46" font-size="8.5" text-anchor="end" fill="#231f20" stroke="#231f20" stroke-width="0.18">0.20</text>
<line x1="177.50" y1="48.90" x2="183.00" y2="48.90" stroke="#231f20" stroke-width="1.35" stroke-linecap="butt"/>
<text x="175.50" y="51.96" font-size="8.5" text-anchor="end" fill="#231f20" stroke="#231f20" stroke-width="0.18">0.15</text>
<line x1="177.50" y1="77.40" x2="183.00" y2="77.40" stroke="#231f20" stroke-width="1.35" stroke-linecap="butt"/>
<text x="175.50" y="80.46" font-size="8.5" text-anchor="end" fill="#231f20" stroke="#231f20" stroke-width="0.18">0.10</text>
<line x1="177.50" y1="105.90" x2="183.00" y2="105.90" stroke="#231f20" stroke-width="1.35" stroke-linecap="butt"/>
<text x="175.50" y="108.96" font-size="8.5" text-anchor="end" fill="#231f20" stroke="#231f20" stroke-width="0.18">0.05</text>
<line x1="177.50" y1="134.40" x2="183.00" y2="134.40" stroke="#231f20" stroke-width="1.35" stroke-linecap="butt"/>
<text x="175.50" y="137.46" font-size="8.5" text-anchor="end" fill="#231f20" stroke="#231f20" stroke-width="0.18">0.00</text>
<line x1="182.40" y1="134.40" x2="269.80" y2="134.40" stroke="#231f20" stroke-width="1.35" stroke-linecap="butt"/>
<line x1="200.80" y1="134.40" x2="200.80" y2="138.60" stroke="#231f20" stroke-width="1.2" stroke-linecap="butt"/>
<line x1="228.00" y1="134.40" x2="228.00" y2="138.60" stroke="#231f20" stroke-width="1.2" stroke-linecap="butt"/>
<line x1="255.30" y1="134.40" x2="255.30" y2="138.60" stroke="#231f20" stroke-width="1.2" stroke-linecap="butt"/>
<text x="155.20" y="78.00" font-size="8.5" text-anchor="middle" transform="rotate(-90 155.20 78.00)" fill="#231f20" stroke="#231f20" stroke-width="0.18">5hmC (%)</text>
<line x1="201.30" y1="45.80" x2="201.30" y2="68.40" stroke="#231f20" stroke-width="1.15" stroke-linecap="butt"/>
<line x1="201.30" y1="99.40" x2="201.30" y2="100.80" stroke="#231f20" stroke-width="1.15" stroke-linecap="butt"/>
<line x1="196.30" y1="45.80" x2="206.30" y2="45.80" stroke="#231f20" stroke-width="1.15" stroke-linecap="butt"/>
<line x1="196.30" y1="100.80" x2="206.30" y2="100.80" stroke="#231f20" stroke-width="1.15" stroke-linecap="butt"/>
<rect x="193.10" y="68.40" width="16.40" height="31.00" fill="#fff" stroke="#231f20" stroke-width="1.15" />
<line x1="193.10" y1="90.20" x2="209.50" y2="90.20" stroke="#231f20" stroke-width="1.15" stroke-linecap="butt"/>
<line x1="228.40" y1="88.00" x2="228.40" y2="115.70" stroke="#231f20" stroke-width="1.15" stroke-linecap="butt"/>
<line x1="228.40" y1="119.30" x2="228.40" y2="125.00" stroke="#231f20" stroke-width="1.15" stroke-linecap="butt"/>
<line x1="223.40" y1="88.00" x2="233.40" y2="88.00" stroke="#231f20" stroke-width="1.15" stroke-linecap="butt"/>
<line x1="223.40" y1="125.00" x2="233.40" y2="125.00" stroke="#231f20" stroke-width="1.15" stroke-linecap="butt"/>
<rect x="220.20" y="115.70" width="16.40" height="3.60" fill="#fff" stroke="#231f20" stroke-width="0.8" />
<line x1="220.20" y1="117.50" x2="236.60" y2="117.50" stroke="#231f20" stroke-width="0.8" stroke-linecap="butt"/>
<line x1="255.40" y1="100.90" x2="255.40" y2="106.60" stroke="#231f20" stroke-width="1.15" stroke-linecap="butt"/>
<line x1="255.40" y1="120.50" x2="255.40" y2="124.50" stroke="#231f20" stroke-width="1.15" stroke-linecap="butt"/>
<line x1="250.50" y1="100.90" x2="260.30" y2="100.90" stroke="#231f20" stroke-width="1.15" stroke-linecap="butt"/>
<line x1="250.50" y1="124.50" x2="260.30" y2="124.50" stroke="#231f20" stroke-width="1.15" stroke-linecap="butt"/>
<rect x="247.30" y="106.60" width="16.20" height="13.90" fill="#fff" stroke="#231f20" stroke-width="1.15" />
<line x1="247.30" y1="115.60" x2="263.50" y2="115.60" stroke="#231f20" stroke-width="1.15" stroke-linecap="butt"/>
<line x1="200.50" y1="22.30" x2="261.00" y2="22.30" stroke="#77787b" stroke-width="1.15" stroke-linecap="butt"/>
<text x="214.80" y="19.80" font-size="8.5" fill="#231f20" stroke="#231f20" stroke-width="0.18"><tspan font-style="italic">P</tspan> = 0.01</text>
<line x1="200.50" y1="39.00" x2="225.60" y2="39.00" stroke="#77787b" stroke-width="1.15" stroke-linecap="butt"/>
<text x="196.80" y="36.60" font-size="8.5" fill="#231f20" stroke="#231f20" stroke-width="0.18"><tspan font-style="italic">P</tspan> = 0.02</text>
<text x="206.10" y="145.70" font-size="8.5" text-anchor="end" transform="rotate(-40 206.10 145.70)" fill="#231f20" stroke="#231f20" stroke-width="0.18">IDH1/2<tspan dy="-2.63" font-size="4.93" stroke-width="0.08">WT</tspan></text>
<text x="233.30" y="145.70" font-size="8.5" text-anchor="end" transform="rotate(-40 233.30 145.70)" fill="#231f20" stroke="#231f20" stroke-width="0.18">IDH1/2<tspan dy="-2.63" font-size="4.93" stroke-width="0.08">MUT</tspan></text>
<text x="260.60" y="145.70" font-size="8.5" text-anchor="end" transform="rotate(-40 260.60 145.70)" fill="#231f20" stroke="#231f20" stroke-width="0.18">TET2<tspan dy="-2.63" font-size="4.93" stroke-width="0.08">MUT</tspan></text>
<line x1="182.60" y1="175.30" x2="259.20" y2="175.30" stroke="#231f20" stroke-width="1.2" stroke-linecap="butt"/>
<line x1="182.60" y1="173.80" x2="182.60" y2="175.90" stroke="#231f20" stroke-width="1.0" stroke-linecap="butt"/>
<line x1="259.20" y1="173.80" x2="259.20" y2="175.90" stroke="#231f20" stroke-width="1.0" stroke-linecap="butt"/>
<text x="220.80" y="184.90" font-size="8.5" text-anchor="middle" fill="#231f20" stroke="#231f20" stroke-width="0.18">AML</text>
<text x="286.60" y="9.20" font-size="10.0" font-weight="bold" fill="#231f20" stroke="#231f20" stroke-width="0.18">C</text>
<line x1="322.50" y1="19.82" x2="322.50" y2="136.18" stroke="#231f20" stroke-width="1.35" stroke-linecap="butt"/>
<line x1="317.50" y1="20.50" x2="322.50" y2="20.50" stroke="#231f20" stroke-width="1.35" stroke-linecap="butt"/>
<text x="315.50" y="23.56" font-size="8.5" text-anchor="end" fill="#231f20" stroke="#231f20" stroke-width="0.18">0.04</text>
<line x1="317.50" y1="49.25" x2="322.50" y2="49.25" stroke="#231f20" stroke-width="1.35" stroke-linecap="butt"/>
<text x="315.50" y="52.31" font-size="8.5" text-anchor="end" fill="#231f20" stroke="#231f20" stroke-width="0.18">0.03</text>
<line x1="317.50" y1="78.00" x2="322.50" y2="78.00" stroke="#231f20" stroke-width="1.35" stroke-linecap="butt"/>
<text x="315.50" y="81.06" font-size="8.5" text-anchor="end" fill="#231f20" stroke="#231f20" stroke-width="0.18">0.02</text>
<line x1="317.50" y1="106.75" x2="322.50" y2="106.75" stroke="#231f20" stroke-width="1.35" stroke-linecap="butt"/>
<text x="315.50" y="109.81" font-size="8.5" text-anchor="end" fill="#231f20" stroke="#231f20" stroke-width="0.18">0.01</text>
<line x1="317.50" y1="135.50" x2="322.50" y2="135.50" stroke="#231f20" stroke-width="1.35" stroke-linecap="butt"/>
<text x="315.50" y="138.56" font-size="8.5" text-anchor="end" fill="#231f20" stroke="#231f20" stroke-width="0.18">0.00</text>
<text x="295.00" y="78.00" font-size="8.5" text-anchor="middle" transform="rotate(-90 295.00 78.00)" fill="#231f20" stroke="#231f20" stroke-width="0.18">5hmC (%)</text>
<line x1="333.80" y1="56.72" x2="333.80" y2="51.26" stroke="#231f20" stroke-width="1.0" stroke-linecap="butt"/>
<line x1="330.00" y1="51.26" x2="337.60" y2="51.26" stroke="#231f20" stroke-width="1.0" stroke-linecap="butt"/>
<rect x="328.20" y="56.72" width="11.20" height="78.78" fill="#6f4fa3" stroke="#231f20" stroke-width="0.9" />
<line x1="333.80" y1="135.50" x2="333.80" y2="139.30" stroke="#231f20" stroke-width="1.1" stroke-linecap="butt"/>
<text x="336.70" y="141.10" font-size="8.5" text-anchor="end" transform="rotate(-90 336.70 141.10)" fill="#231f20" stroke="#231f20" stroke-width="0.18">HK157</text>
<line x1="351.40" y1="94.96" x2="351.40" y2="90.36" stroke="#231f20" stroke-width="1.0" stroke-linecap="butt"/>
<line x1="347.60" y1="90.36" x2="355.20" y2="90.36" stroke="#231f20" stroke-width="1.0" stroke-linecap="butt"/>
<rect x="345.80" y="94.96" width="11.20" height="40.54" fill="#6f4fa3" stroke="#231f20" stroke-width="0.9" />
<line x1="351.40" y1="135.50" x2="351.40" y2="139.30" stroke="#231f20" stroke-width="1.1" stroke-linecap="butt"/>
<text x="354.30" y="141.10" font-size="8.5" text-anchor="end" transform="rotate(-90 354.30 141.10)" fill="#231f20" stroke="#231f20" stroke-width="0.18">HK308</text>
<line x1="368.80" y1="100.14" x2="368.80" y2="94.67" stroke="#231f20" stroke-width="1.0" stroke-linecap="butt"/>
<line x1="365.00" y1="94.67" x2="372.60" y2="94.67" stroke="#231f20" stroke-width="1.0" stroke-linecap="butt"/>
<rect x="363.20" y="100.14" width="11.20" height="35.36" fill="#6f4fa3" stroke="#231f20" stroke-width="0.9" />
<line x1="368.80" y1="135.50" x2="368.80" y2="139.30" stroke="#231f20" stroke-width="1.1" stroke-linecap="butt"/>
<text x="371.70" y="141.10" font-size="8.5" text-anchor="end" transform="rotate(-90 371.70 141.10)" fill="#231f20" stroke="#231f20" stroke-width="0.18">BT260</text>
<line x1="385.90" y1="119.97" x2="385.90" y2="118.54" stroke="#231f20" stroke-width="1.0" stroke-linecap="butt"/>
<line x1="382.10" y1="118.54" x2="389.70" y2="118.54" stroke="#231f20" stroke-width="1.0" stroke-linecap="butt"/>
<rect x="380.30" y="119.97" width="11.20" height="15.53" fill="#6f4fa3" stroke="#231f20" stroke-width="0.9" />
<line x1="385.90" y1="135.50" x2="385.90" y2="139.30" stroke="#231f20" stroke-width="1.1" stroke-linecap="butt"/>
<text x="388.80" y="141.10" font-size="8.5" text-anchor="end" transform="rotate(-90 388.80 141.10)" fill="#231f20" stroke="#231f20" stroke-width="0.18">TS516</text>
<line x1="403.10" y1="90.07" x2="403.10" y2="88.06" stroke="#231f20" stroke-width="1.0" stroke-linecap="butt"/>
<line x1="399.30" y1="88.06" x2="406.90" y2="88.06" stroke="#231f20" stroke-width="1.0" stroke-linecap="butt"/>
<rect x="397.50" y="90.07" width="11.20" height="45.43" fill="#ee3224" stroke="#231f20" stroke-width="0.9" />
<line x1="403.10" y1="135.50" x2="403.10" y2="139.30" stroke="#231f20" stroke-width="1.1" stroke-linecap="butt"/>
<text x="406.00" y="141.10" font-size="8.5" text-anchor="end" transform="rotate(-90 406.00 141.10)" fill="#231f20" stroke="#231f20" stroke-width="0.18">TS603</text>
<line x1="420.60" y1="95.54" x2="420.60" y2="94.96" stroke="#231f20" stroke-width="1.0" stroke-linecap="butt"/>
<line x1="416.80" y1="94.96" x2="424.40" y2="94.96" stroke="#231f20" stroke-width="1.0" stroke-linecap="butt"/>
<rect x="415.00" y="95.54" width="11.20" height="39.96" fill="#ee3224" stroke="#231f20" stroke-width="0.9" />
<line x1="420.60" y1="135.50" x2="420.60" y2="139.30" stroke="#231f20" stroke-width="1.1" stroke-linecap="butt"/>
<text x="423.50" y="141.10" font-size="8.5" text-anchor="end" transform="rotate(-90 423.50 141.10)" fill="#231f20" stroke="#231f20" stroke-width="0.18">MGG152</text>
<line x1="438.10" y1="106.75" x2="438.10" y2="103.01" stroke="#231f20" stroke-width="1.0" stroke-linecap="butt"/>
<line x1="434.30" y1="103.01" x2="441.90" y2="103.01" stroke="#231f20" stroke-width="1.0" stroke-linecap="butt"/>
<rect x="432.50" y="106.75" width="11.20" height="28.75" fill="#ee3224" stroke="#231f20" stroke-width="0.9" />
<line x1="438.10" y1="135.50" x2="438.10" y2="139.30" stroke="#231f20" stroke-width="1.1" stroke-linecap="butt"/>
<text x="441.00" y="141.10" font-size="8.5" text-anchor="end" transform="rotate(-90 441.00 141.10)" fill="#231f20" stroke="#231f20" stroke-width="0.18">HK211</text>
<line x1="455.40" y1="120.55" x2="455.40" y2="119.69" stroke="#231f20" stroke-width="1.0" stroke-linecap="butt"/>
<line x1="451.60" y1="119.69" x2="459.20" y2="119.69" stroke="#231f20" stroke-width="1.0" stroke-linecap="butt"/>
<rect x="449.80" y="120.55" width="11.20" height="14.95" fill="#ee3224" stroke="#231f20" stroke-width="0.9" />
<line x1="455.40" y1="135.50" x2="455.40" y2="139.30" stroke="#231f20" stroke-width="1.1" stroke-linecap="butt"/>
<text x="458.30" y="141.10" font-size="8.5" text-anchor="end" transform="rotate(-90 458.30 141.10)" fill="#231f20" stroke="#231f20" stroke-width="0.18">HK213</text>
<line x1="472.90" y1="124.86" x2="472.90" y2="124.29" stroke="#231f20" stroke-width="1.0" stroke-linecap="butt"/>
<line x1="469.10" y1="124.29" x2="476.70" y2="124.29" stroke="#231f20" stroke-width="1.0" stroke-linecap="butt"/>
<rect x="467.30" y="124.86" width="11.20" height="10.64" fill="#ee3224" stroke="#231f20" stroke-width="0.9" />
<line x1="472.90" y1="135.50" x2="472.90" y2="139.30" stroke="#231f20" stroke-width="1.1" stroke-linecap="butt"/>
<text x="475.80" y="141.10" font-size="8.5" text-anchor="end" transform="rotate(-90 475.80 141.10)" fill="#231f20" stroke="#231f20" stroke-width="0.18">BT054</text>
<line x1="321.90" y1="135.50" x2="483.80" y2="135.50" stroke="#231f20" stroke-width="1.2" stroke-linecap="butt"/>
<line x1="328.80" y1="177.40" x2="388.80" y2="177.40" stroke="#231f20" stroke-width="1.0" stroke-linecap="butt"/>
<line x1="328.80" y1="176.00" x2="328.80" y2="177.90" stroke="#231f20" stroke-width="1.0" stroke-linecap="butt"/>
<line x1="388.80" y1="176.00" x2="388.80" y2="177.90" stroke="#231f20" stroke-width="1.0" stroke-linecap="butt"/>
<line x1="393.80" y1="177.40" x2="480.00" y2="177.40" stroke="#231f20" stroke-width="1.0" stroke-linecap="butt"/>
<line x1="393.80" y1="176.00" x2="393.80" y2="177.90" stroke="#231f20" stroke-width="1.0" stroke-linecap="butt"/>
<line x1="480.00" y1="176.00" x2="480.00" y2="177.90" stroke="#231f20" stroke-width="1.0" stroke-linecap="butt"/>
<text x="358.80" y="187.60" font-size="8.5" text-anchor="middle" fill="#231f20" stroke="#231f20" stroke-width="0.18">IDH1<tspan dy="-2.63" font-size="4.93" stroke-width="0.08">WT</tspan></text>
<text x="437.50" y="187.60" font-size="8.5" text-anchor="middle" fill="#231f20" stroke="#231f20" stroke-width="0.18">IDH1<tspan dy="-2.63" font-size="4.93" stroke-width="0.08">R132H</tspan></text>
<line x1="462.50" y1="17.32" x2="462.50" y2="90.67" stroke="#231f20" stroke-width="1.35" stroke-linecap="butt"/>
<line x1="458.30" y1="18.00" x2="462.50" y2="18.00" stroke="#231f20" stroke-width="1.35" stroke-linecap="butt"/>
<text x="456.50" y="21.06" font-size="8.5" text-anchor="end" fill="#231f20" stroke="#231f20" stroke-width="0.18">0.03</text>
<line x1="458.30" y1="42.00" x2="462.50" y2="42.00" stroke="#231f20" stroke-width="1.35" stroke-linecap="butt"/>
<text x="456.50" y="45.06" font-size="8.5" text-anchor="end" fill="#231f20" stroke="#231f20" stroke-width="0.18">0.02</text>
<line x1="458.30" y1="66.00" x2="462.50" y2="66.00" stroke="#231f20" stroke-width="1.35" stroke-linecap="butt"/>
<text x="456.50" y="69.06" font-size="8.5" text-anchor="end" fill="#231f20" stroke="#231f20" stroke-width="0.18">0.01</text>
<line x1="458.30" y1="90.00" x2="462.50" y2="90.00" stroke="#231f20" stroke-width="1.35" stroke-linecap="butt"/>
<text x="456.50" y="93.06" font-size="8.5" text-anchor="end" fill="#231f20" stroke="#231f20" stroke-width="0.18">0.00</text>
<line x1="461.90" y1="90.00" x2="508.80" y2="90.00" stroke="#231f20" stroke-width="1.2" stroke-linecap="butt"/>
<line x1="473.30" y1="90.00" x2="473.30" y2="93.60" stroke="#231f20" stroke-width="1.1" stroke-linecap="butt"/>
<line x1="498.80" y1="90.00" x2="498.80" y2="93.60" stroke="#231f20" stroke-width="1.1" stroke-linecap="butt"/>
<text x="436.40" y="60.00" font-size="8.5" text-anchor="middle" transform="rotate(-90 436.40 60.00)" fill="#231f20" stroke="#231f20" stroke-width="0.18">5hmC (%)</text>
<circle cx="473.3" cy="24.3" r="1.1" fill="#3b3fa0"/>
<circle cx="473.3" cy="60.2" r="1.1" fill="#3b3fa0"/>
<circle cx="473.3" cy="77.0" r="1.1" fill="#3b3fa0"/>
<line x1="468.00" y1="58.30" x2="478.40" y2="58.30" stroke="#3b3fa0" stroke-width="1.15" stroke-linecap="butt"/>
<circle cx="498.8" cy="51.8" r="1.1" fill="#ee3224"/>
<circle cx="498.8" cy="57.0" r="1.1" fill="#ee3224"/>
<circle cx="498.8" cy="66.3" r="1.1" fill="#ee3224"/>
<circle cx="498.8" cy="77.0" r="1.1" fill="#ee3224"/>
<circle cx="498.8" cy="81.3" r="1.1" fill="#ee3224"/>
<line x1="493.80" y1="66.30" x2="503.80" y2="66.30" stroke="#ee3224" stroke-width="1.15" stroke-linecap="butt"/>
<line x1="475.00" y1="17.50" x2="499.30" y2="17.50" stroke="#77787b" stroke-width="1.15" stroke-linecap="butt"/>
<text x="470.60" y="14.40" font-size="8.5" fill="#231f20" stroke="#231f20" stroke-width="0.18"><tspan font-style="italic">P</tspan> = 0.41</text>
<text x="454.60" y="103.90" font-size="8.5" fill="#231f20" stroke="#231f20" stroke-width="0.18">IDH1<tspan dy="-2.63" font-size="4.93" stroke-width="0.08">WT</tspan></text>
<text x="485.20" y="103.90" font-size="8.5" fill="#231f20" stroke="#231f20" stroke-width="0.18">IDH1<tspan dy="-2.63" font-size="4.93" stroke-width="0.08">R132H</tspan></text>
<text x="0.40" y="209.00" font-size="10.0" font-weight="bold" fill="#231f20" stroke="#231f20" stroke-width="0.18">D</text>
<line x1="35.00" y1="212.53" x2="35.00" y2="327.28" stroke="#231f20" stroke-width="1.35" stroke-linecap="butt"/>
<line x1="30.20" y1="213.20" x2="35.00" y2="213.20" stroke="#231f20" stroke-width="1.35" stroke-linecap="butt"/>
<text x="28.20" y="216.26" font-size="8.5" text-anchor="end" fill="#231f20" stroke="#231f20" stroke-width="0.18">2.0</text>
<line x1="30.20" y1="241.55" x2="35.00" y2="241.55" stroke="#231f20" stroke-width="1.35" stroke-linecap="butt"/>
<text x="28.20" y="244.61" font-size="8.5" text-anchor="end" fill="#231f20" stroke="#231f20" stroke-width="0.18">1.5</text>
<line x1="30.20" y1="269.90" x2="35.00" y2="269.90" stroke="#231f20" stroke-width="1.35" stroke-linecap="butt"/>
<text x="28.20" y="272.96" font-size="8.5" text-anchor="end" fill="#231f20" stroke="#231f20" stroke-width="0.18">1.0</text>
<line x1="30.20" y1="298.25" x2="35.00" y2="298.25" stroke="#231f20" stroke-width="1.35" stroke-linecap="butt"/>
<text x="28.20" y="301.31" font-size="8.5" text-anchor="end" fill="#231f20" stroke="#231f20" stroke-width="0.18">0.5</text>
<line x1="30.20" y1="326.60" x2="35.00" y2="326.60" stroke="#231f20" stroke-width="1.35" stroke-linecap="butt"/>
<text x="28.20" y="329.66" font-size="8.5" text-anchor="end" fill="#231f20" stroke="#231f20" stroke-width="0.18">0.0</text>
<text x="13.40" y="270.00" font-size="8.5" text-anchor="middle" transform="rotate(-90 13.40 270.00)" fill="#231f20" stroke="#231f20" stroke-width="0.18">2HG (mmol/L)</text>
<line x1="46.80" y1="325.58" x2="46.80" y2="325.24" stroke="#231f20" stroke-width="1.0" stroke-linecap="butt"/>
<line x1="43.50" y1="325.24" x2="50.10" y2="325.24" stroke="#231f20" stroke-width="1.0" stroke-linecap="butt"/>
<rect x="40.90" y="325.58" width="11.80" height="1.02" fill="#231f20" stroke="#231f20" stroke-width="0.5" />
<line x1="46.80" y1="326.60" x2="46.80" y2="330.40" stroke="#231f20" stroke-width="1.1" stroke-linecap="butt"/>
<text x="49.70" y="331.80" font-size="8.5" text-anchor="end" transform="rotate(-90 49.70 331.80)" fill="#231f20" stroke="#231f20" stroke-width="0.18">HK157</text>
<line x1="64.50" y1="325.35" x2="64.50" y2="324.90" stroke="#231f20" stroke-width="1.0" stroke-linecap="butt"/>
<line x1="61.20" y1="324.90" x2="67.80" y2="324.90" stroke="#231f20" stroke-width="1.0" stroke-linecap="butt"/>
<rect x="58.60" y="325.35" width="11.80" height="1.25" fill="#231f20" stroke="#231f20" stroke-width="0.5" />
<line x1="64.50" y1="326.60" x2="64.50" y2="330.40" stroke="#231f20" stroke-width="1.1" stroke-linecap="butt"/>
<text x="67.40" y="331.80" font-size="8.5" text-anchor="end" transform="rotate(-90 67.40 331.80)" fill="#231f20" stroke="#231f20" stroke-width="0.18">HK308</text>
<line x1="82.20" y1="326.15" x2="82.20" y2="325.98" stroke="#231f20" stroke-width="1.0" stroke-linecap="butt"/>
<line x1="78.90" y1="325.98" x2="85.50" y2="325.98" stroke="#231f20" stroke-width="1.0" stroke-linecap="butt"/>
<rect x="76.30" y="326.15" width="11.80" height="0.45" fill="#231f20" stroke="#231f20" stroke-width="0.5" />
<line x1="82.20" y1="326.60" x2="82.20" y2="330.40" stroke="#231f20" stroke-width="1.1" stroke-linecap="butt"/>
<text x="85.10" y="331.80" font-size="8.5" text-anchor="end" transform="rotate(-90 85.10 331.80)" fill="#231f20" stroke="#231f20" stroke-width="0.18">BT260</text>
<line x1="99.90" y1="325.35" x2="99.90" y2="324.90" stroke="#231f20" stroke-width="1.0" stroke-linecap="butt"/>
<line x1="96.60" y1="324.90" x2="103.20" y2="324.90" stroke="#231f20" stroke-width="1.0" stroke-linecap="butt"/>
<rect x="94.00" y="325.35" width="11.80" height="1.25" fill="#231f20" stroke="#231f20" stroke-width="0.5" />
<line x1="99.90" y1="326.60" x2="99.90" y2="330.40" stroke="#231f20" stroke-width="1.1" stroke-linecap="butt"/>
<text x="102.80" y="331.80" font-size="8.5" text-anchor="end" transform="rotate(-90 102.80 331.80)" fill="#231f20" stroke="#231f20" stroke-width="0.18">TS516</text>
<line x1="117.60" y1="280.96" x2="117.60" y2="280.73" stroke="#231f20" stroke-width="1.0" stroke-linecap="butt"/>
<line x1="114.30" y1="280.73" x2="120.90" y2="280.73" stroke="#231f20" stroke-width="1.0" stroke-linecap="butt"/>
<rect x="111.70" y="280.96" width="11.80" height="45.64" fill="#ee3224" stroke="#231f20" stroke-width="0.9" />
<line x1="117.60" y1="326.60" x2="117.60" y2="330.40" stroke="#231f20" stroke-width="1.1" stroke-linecap="butt"/>
<text x="120.50" y="331.80" font-size="8.5" text-anchor="end" transform="rotate(-90 120.50 331.80)" fill="#231f20" stroke="#231f20" stroke-width="0.18">TS603</text>
<line x1="135.30" y1="230.21" x2="135.30" y2="229.53" stroke="#231f20" stroke-width="1.0" stroke-linecap="butt"/>
<line x1="132.00" y1="229.53" x2="138.60" y2="229.53" stroke="#231f20" stroke-width="1.0" stroke-linecap="butt"/>
<rect x="129.40" y="230.21" width="11.80" height="96.39" fill="#ee3224" stroke="#231f20" stroke-width="0.9" />
<line x1="135.30" y1="326.60" x2="135.30" y2="330.40" stroke="#231f20" stroke-width="1.1" stroke-linecap="butt"/>
<text x="138.20" y="331.80" font-size="8.5" text-anchor="end" transform="rotate(-90 138.20 331.80)" fill="#231f20" stroke="#231f20" stroke-width="0.18">MGG152</text>
<line x1="153.00" y1="304.20" x2="153.00" y2="300.52" stroke="#231f20" stroke-width="1.0" stroke-linecap="butt"/>
<line x1="149.70" y1="300.52" x2="156.30" y2="300.52" stroke="#231f20" stroke-width="1.0" stroke-linecap="butt"/>
<rect x="147.10" y="304.20" width="11.80" height="22.40" fill="#ee3224" stroke="#231f20" stroke-width="0.9" />
<line x1="153.00" y1="326.60" x2="153.00" y2="330.40" stroke="#231f20" stroke-width="1.1" stroke-linecap="butt"/>
<text x="155.90" y="331.80" font-size="8.5" text-anchor="end" transform="rotate(-90 155.90 331.80)" fill="#231f20" stroke="#231f20" stroke-width="0.18">HK211</text>
<line x1="170.70" y1="320.65" x2="170.70" y2="319.97" stroke="#231f20" stroke-width="1.0" stroke-linecap="butt"/>
<line x1="167.40" y1="319.97" x2="174.00" y2="319.97" stroke="#231f20" stroke-width="1.0" stroke-linecap="butt"/>
<rect x="164.80" y="320.65" width="11.80" height="5.95" fill="#ee3224" stroke="#231f20" stroke-width="0.9" />
<line x1="170.70" y1="326.60" x2="170.70" y2="330.40" stroke="#231f20" stroke-width="1.1" stroke-linecap="butt"/>
<text x="173.60" y="331.80" font-size="8.5" text-anchor="end" transform="rotate(-90 173.60 331.80)" fill="#231f20" stroke="#231f20" stroke-width="0.18">HK213</text>
<line x1="188.40" y1="265.65" x2="188.40" y2="262.81" stroke="#231f20" stroke-width="1.0" stroke-linecap="butt"/>
<line x1="185.10" y1="262.81" x2="191.70" y2="262.81" stroke="#231f20" stroke-width="1.0" stroke-linecap="butt"/>
<rect x="182.50" y="265.65" width="11.80" height="60.95" fill="#ee3224" stroke="#231f20" stroke-width="0.9" />
<line x1="188.40" y1="326.60" x2="188.40" y2="330.40" stroke="#231f20" stroke-width="1.1" stroke-linecap="butt"/>
<text x="191.30" y="331.80" font-size="8.5" text-anchor="end" transform="rotate(-90 191.30 331.80)" fill="#231f20" stroke="#231f20" stroke-width="0.18">BT054</text>
<line x1="34.40" y1="326.60" x2="195.60" y2="326.60" stroke="#231f20" stroke-width="1.2" stroke-linecap="butt"/>
<line x1="42.30" y1="370.20" x2="103.20" y2="370.20" stroke="#231f20" stroke-width="1.0" stroke-linecap="butt"/>
<line x1="42.30" y1="368.20" x2="42.30" y2="370.70" stroke="#231f20" stroke-width="1.0" stroke-linecap="butt"/>
<line x1="103.20" y1="368.20" x2="103.20" y2="370.70" stroke="#231f20" stroke-width="1.0" stroke-linecap="butt"/>
<line x1="106.80" y1="370.20" x2="191.40" y2="370.20" stroke="#231f20" stroke-width="1.0" stroke-linecap="butt"/>
<line x1="106.80" y1="368.20" x2="106.80" y2="370.70" stroke="#231f20" stroke-width="1.0" stroke-linecap="butt"/>
<line x1="191.40" y1="368.20" x2="191.40" y2="370.70" stroke="#231f20" stroke-width="1.0" stroke-linecap="butt"/>
<text x="72.20" y="380.40" font-size="8.5" text-anchor="middle" fill="#231f20" stroke="#231f20" stroke-width="0.18">IDH1<tspan dy="-2.63" font-size="4.93" stroke-width="0.08">WT</tspan></text>
<text x="149.00" y="380.40" font-size="8.5" text-anchor="middle" fill="#231f20" stroke="#231f20" stroke-width="0.18">IDH1<tspan dy="-2.63" font-size="4.93" stroke-width="0.08">R132H</tspan></text>
<text x="216.20" y="209.00" font-size="10.0" font-weight="bold" fill="#231f20" stroke="#231f20" stroke-width="0.18">E</text>
<text x="268.00" y="213.80" font-size="8.5" text-anchor="middle" fill="#231f20" stroke="#231f20" stroke-width="0.18">IHA</text>
<line x1="235.50" y1="216.80" x2="301.00" y2="216.80" stroke="#231f20" stroke-width="1.4" stroke-linecap="butt"/>
<line x1="235.50" y1="216.30" x2="235.50" y2="218.60" stroke="#231f20" stroke-width="1.0" stroke-linecap="butt"/>
<line x1="301.00" y1="216.30" x2="301.00" y2="218.60" stroke="#231f20" stroke-width="1.0" stroke-linecap="butt"/>
<text x="236.50" y="228.80" font-size="8.0" fill="#231f20" stroke="#231f20" stroke-width="0.18">IDH1<tspan dy="-2.48" font-size="4.64" stroke-width="0.08">WT</tspan></text>
<text x="267.80" y="228.80" font-size="8.0" fill="#231f20" stroke="#231f20" stroke-width="0.18">IDH1<tspan dy="-2.48" font-size="4.64" stroke-width="0.08">R132H</tspan></text>
<rect x="237.5" y="249.0" width="29.0" height="124.69999999999999" fill="url(#h1_0)" mask="url(#m1_0)"/>
<rect x="237.5" y="249.0" width="29.0" height="124.69999999999999" fill="url(#h1_1)" mask="url(#m1_1)"/>
<rect x="237.5" y="249.0" width="29.0" height="124.69999999999999" fill="url(#h1_2)" mask="url(#m1_2)"/>
<rect x="237.5" y="258.2" width="29.0" height="1.4" fill="#fff" opacity="0.15"/>
<rect x="237.5" y="262.5" width="29.0" height="0.6" fill="#fff" opacity="0.42"/>
<rect x="237.5" y="273.9" width="29.0" height="1.0" fill="#fff" opacity="0.16"/>
<rect x="237.5" y="279.5" width="29.0" height="0.6" fill="#fff" opacity="0.42"/>
<rect x="237.5" y="285.6" width="29.0" height="0.6" fill="#fff" opacity="0.28"/>
<rect x="237.5" y="287.7" width="29.0" height="1.0" fill="#fff" opacity="0.04"/>
<rect x="237.5" y="292.3" width="29.0" height="0.6" fill="#fff" opacity="0.23"/>
<rect x="237.5" y="296.3" width="29.0" height="1.4" fill="#fff" opacity="0.32"/>
<rect x="237.5" y="302.5" width="29.0" height="0.6" fill="#fff" opacity="0.11"/>
<rect x="237.5" y="303.6" width="29.0" height="0.6" fill="#fff" opacity="0.49"/>
<rect x="237.5" y="305.7" width="29.0" height="0.6" fill="#fff" opacity="0.39"/>
<rect x="237.5" y="307.8" width="29.0" height="1.4" fill="#fff" opacity="0.04"/>
<rect x="237.5" y="310.2" width="29.0" height="0.6" fill="#fff" opacity="0.30"/>
<rect x="237.5" y="313.3" width="29.0" height="0.8" fill="#fff" opacity="0.48"/>
<rect x="237.5" y="315.1" width="29.0" height="1.4" fill="#fff" opacity="0.09"/>
<rect x="237.5" y="317.5" width="29.0" height="0.8" fill="#fff" opacity="0.36"/>
<rect x="237.5" y="323.2" width="29.0" height="0.6" fill="#fff" opacity="0.05"/>
<rect x="237.5" y="325.3" width="29.0" height="0.8" fill="#fff" opacity="0.37"/>
<rect x="237.5" y="328.6" width="29.0" height="1.4" fill="#fff" opacity="0.15"/>
<rect x="237.5" y="333.3" width="29.0" height="0.6" fill="#fff" opacity="0.13"/>
<rect x="237.5" y="334.4" width="29.0" height="0.6" fill="#fff" opacity="0.09"/>
<rect x="237.5" y="345.0" width="29.0" height="0.8" fill="#fff" opacity="0.50"/>
<rect x="237.5" y="350.4" width="29.0" height="1.4" fill="#fff" opacity="0.47"/>
<rect x="237.5" y="354.3" width="29.0" height="0.6" fill="#fff" opacity="0.31"/>
<rect x="237.5" y="357.5" width="29.0" height="1.4" fill="#fff" opacity="0.36"/>
<rect x="237.5" y="361.4" width="29.0" height="1.4" fill="#fff" opacity="0.23"/>
<rect x="237.5" y="363.3" width="29.0" height="1.0" fill="#fff" opacity="0.30"/>
<rect x="237.5" y="368.4" width="29.0" height="1.0" fill="#fff" opacity="0.45"/>
<rect x="237.50" y="232.20" width="29.00" height="141.50" fill="none" stroke="#2e2e2e" stroke-width="0.8" />
<polyline points="237.50,248.39 238.22,248.39 238.95,248.38 239.68,248.38 240.40,248.37 241.12,248.37 241.85,248.36 242.57,248.35 243.30,248.34 244.03,248.33 244.75,248.31 245.47,248.28 246.20,248.24 246.93,248.19 247.65,248.12 248.38,248.02 249.10,247.87 249.82,247.65 250.55,247.38 251.28,247.11 252.00,246.98 252.72,247.11 253.45,247.38 254.18,247.65 254.90,247.87 255.62,248.02 256.35,248.12 257.07,248.19 257.80,248.24 258.52,248.28 259.25,248.31 259.98,248.33 260.70,248.34 261.43,248.35 262.15,248.36 262.88,248.37 263.60,248.37 264.32,248.38 265.05,248.38 265.77,248.39 266.50,248.39" fill="none" stroke="#47508f" stroke-width="0.95"/>
<line x1="237.50" y1="249.00" x2="266.50" y2="249.00" stroke="#26262e" stroke-width="1.35" stroke-linecap="butt"/>
<rect x="270.7" y="249.0" width="29.19999999999999" height="124.69999999999999" fill="url(#h2_0)" mask="url(#m2_0)"/>
<rect x="270.7" y="249.0" width="29.19999999999999" height="124.69999999999999" fill="url(#h2_1)" mask="url(#m2_1)"/>
<rect x="270.7" y="249.0" width="29.19999999999999" height="124.69999999999999" fill="url(#h2_2)" mask="url(#m2_2)"/>
<rect x="270.7" y="249.0" width="29.19999999999999" height="124.69999999999999" fill="url(#h2_3)" mask="url(#m2_3)"/>
<rect x="270.7" y="249.0" width="29.19999999999999" height="124.69999999999999" fill="url(#h2_4)" mask="url(#m2_4)"/>
<rect x="270.7" y="250.0" width="29.19999999999999" height="1.4" fill="#fff" opacity="0.12"/>
<rect x="270.7" y="256.2" width="29.19999999999999" height="1.0" fill="#fff" opacity="0.29"/>
<rect x="270.7" y="258.2" width="29.19999999999999" height="0.6" fill="#fff" opacity="0.30"/>
<rect x="270.7" y="265.1" width="29.19999999999999" height="1.4" fill="#fff" opacity="0.36"/>
<rect x="270.7" y="274.2" width="29.19999999999999" height="0.6" fill="#fff" opacity="0.18"/>
<rect x="270.7" y="277.3" width="29.19999999999999" height="1.4" fill="#fff" opacity="0.27"/>
<rect x="270.7" y="281.5" width="29.19999999999999" height="1.0" fill="#fff" opacity="0.39"/>
<rect x="270.7" y="284.0" width="29.19999999999999" height="0.6" fill="#fff" opacity="0.11"/>
<rect x="270.7" y="289.4" width="29.19999999999999" height="0.6" fill="#fff" opacity="0.23"/>
<rect x="270.7" y="294.9" width="29.19999999999999" height="1.4" fill="#fff" opacity="0.12"/>
<rect x="270.7" y="296.8" width="29.19999999999999" height="1.4" fill="#fff" opacity="0.17"/>
<rect x="270.7" y="303.1" width="29.19999999999999" height="0.8" fill="#fff" opacity="0.21"/>
<rect x="270.7" y="304.9" width="29.19999999999999" height="0.8" fill="#fff" opacity="0.34"/>
<rect x="270.7" y="308.2" width="29.19999999999999" height="0.8" fill="#fff" opacity="0.36"/>
<rect x="270.7" y="313.7" width="29.19999999999999" height="0.6" fill="#fff" opacity="0.10"/>
<rect x="270.7" y="316.8" width="29.19999999999999" height="1.4" fill="#fff" opacity="0.28"/>
<rect x="270.7" y="325.5" width="29.19999999999999" height="0.8" fill="#fff" opacity="0.33"/>
<rect x="270.7" y="326.8" width="29.19999999999999" height="0.6" fill="#fff" opacity="0.31"/>
<rect x="270.7" y="328.9" width="29.19999999999999" height="1.4" fill="#fff" opacity="0.06"/>
<rect x="270.7" y="338.0" width="29.19999999999999" height="0.8" fill="#fff" opacity="0.26"/>
<rect x="270.7" y="340.3" width="29.19999999999999" height="1.4" fill="#fff" opacity="0.25"/>
<rect x="270.7" y="345.8" width="29.19999999999999" height="0.8" fill="#fff" opacity="0.36"/>
<rect x="270.7" y="347.1" width="29.19999999999999" height="1.0" fill="#fff" opacity="0.09"/>
<rect x="270.7" y="353.7" width="29.19999999999999" height="0.8" fill="#fff" opacity="0.03"/>
<rect x="270.7" y="355.0" width="29.19999999999999" height="1.0" fill="#fff" opacity="0.06"/>
<rect x="270.7" y="361.0" width="29.19999999999999" height="1.0" fill="#fff" opacity="0.08"/>
<rect x="270.7" y="367.4" width="29.19999999999999" height="1.4" fill="#fff" opacity="0.11"/>
<rect x="270.7" y="369.8" width="29.19999999999999" height="0.6" fill="#fff" opacity="0.43"/>
<rect x="270.7" y="371.4" width="29.19999999999999" height="1.4" fill="#fff" opacity="0.13"/>
<rect x="270.70" y="232.20" width="29.20" height="141.50" fill="none" stroke="#2e2e2e" stroke-width="0.8" />
<polyline points="270.70,246.47 271.43,246.43 272.16,246.38 272.89,246.32 273.62,246.25 274.35,246.16 275.08,246.05 275.81,245.92 276.54,245.75 277.27,245.54 278.00,245.26 278.73,244.90 279.46,244.43 280.19,243.78 280.92,242.91 281.65,241.72 282.38,240.13 283.11,238.10 283.84,235.82 284.57,233.85 285.30,233.04 286.03,233.85 286.76,235.82 287.49,238.10 288.22,240.13 288.95,241.72 289.68,242.91 290.41,243.78 291.14,244.43 291.87,244.90 292.60,245.26 293.33,245.54 294.06,245.75 294.79,245.92 295.52,246.05 296.25,246.16 296.98,246.25 297.71,246.32 298.44,246.38 299.17,246.43 299.90,246.47" fill="none" stroke="#47508f" stroke-width="0.95"/>
<line x1="270.70" y1="249.00" x2="299.90" y2="249.00" stroke="#26262e" stroke-width="1.35" stroke-linecap="butt"/>
<line x1="234.30" y1="232.40" x2="237.50" y2="232.40" stroke="#231f20" stroke-width="0.9" stroke-linecap="butt"/>
<text x="233.30" y="235.30" font-size="8.5" text-anchor="end" fill="#231f20" stroke="#231f20" stroke-width="0.18">300</text>
<line x1="234.30" y1="240.60" x2="237.50" y2="240.60" stroke="#231f20" stroke-width="0.9" stroke-linecap="butt"/>
<text x="233.30" y="243.50" font-size="8.5" text-anchor="end" fill="#231f20" stroke="#231f20" stroke-width="0.18">150</text>
<line x1="234.30" y1="248.80" x2="237.50" y2="248.80" stroke="#231f20" stroke-width="0.9" stroke-linecap="butt"/>
<text x="233.30" y="251.70" font-size="8.5" text-anchor="end" fill="#231f20" stroke="#231f20" stroke-width="0.18">0</text>
<text x="238.00" y="380.60" font-size="8.5" text-anchor="end" transform="rotate(-25 238.00 380.60)" fill="#231f20" stroke="#231f20" stroke-width="0.18">−1.5 kb</text>
<text x="253.20" y="381.80" font-size="8.5" text-anchor="end" transform="rotate(-25 253.20 381.80)" fill="#231f20" stroke="#231f20" stroke-width="0.18">TSS</text>
<text x="267.40" y="381.60" font-size="8.5" text-anchor="end" transform="rotate(-25 267.40 381.60)" fill="#231f20" stroke="#231f20" stroke-width="0.18">1.5 kb</text>
<text x="306.60" y="275.60" font-size="8.5" fill="#231f20" stroke="#231f20" stroke-width="0.18">Signal</text>
<rect x="306.80" y="280.40" width="10.60" height="39.00" fill="url(#legE)" />
<line x1="306.80" y1="281.60" x2="309.00" y2="281.60" stroke="#fff" stroke-width="0.5" stroke-linecap="butt"/>
<line x1="315.20" y1="281.60" x2="317.40" y2="281.60" stroke="#fff" stroke-width="0.5" stroke-linecap="butt"/>
<line x1="306.80" y1="294.60" x2="309.00" y2="294.60" stroke="#fff" stroke-width="0.5" stroke-linecap="butt"/>
<line x1="315.20" y1="294.60" x2="317.40" y2="294.60" stroke="#fff" stroke-width="0.5" stroke-linecap="butt"/>
<line x1="306.80" y1="307.40" x2="309.00" y2="307.40" stroke="#fff" stroke-width="0.5" stroke-linecap="butt"/>
<line x1="315.20" y1="307.40" x2="317.40" y2="307.40" stroke="#fff" stroke-width="0.5" stroke-linecap="butt"/>
<text x="319.40" y="285.20" font-size="8.5" fill="#231f20" stroke="#231f20" stroke-width="0.18">600</text>
<text x="319.40" y="298.00" font-size="8.5" fill="#231f20" stroke="#231f20" stroke-width="0.18">400</text>
<text x="319.40" y="310.60" font-size="8.5" fill="#231f20" stroke="#231f20" stroke-width="0.18">200</text>
<text x="319.40" y="323.40" font-size="8.5" fill="#231f20" stroke="#231f20" stroke-width="0.18">0</text>
<text x="358.20" y="209.00" font-size="10.0" font-weight="bold" fill="#231f20" stroke="#231f20" stroke-width="0.18">F</text>
<text x="411.00" y="213.80" font-size="8.5" text-anchor="middle" fill="#231f20" stroke="#231f20" stroke-width="0.18">MTCS</text>
<line x1="378.00" y1="216.80" x2="444.40" y2="216.80" stroke="#231f20" stroke-width="1.4" stroke-linecap="butt"/>
<line x1="378.00" y1="216.30" x2="378.00" y2="218.60" stroke="#231f20" stroke-width="1.0" stroke-linecap="butt"/>
<line x1="444.40" y1="216.30" x2="444.40" y2="218.60" stroke="#231f20" stroke-width="1.0" stroke-linecap="butt"/>
<text x="379.40" y="229.80" font-size="8.0" fill="#231f20" stroke="#231f20" stroke-width="0.18">IDH1<tspan dy="-2.48" font-size="4.64" stroke-width="0.08">WT</tspan></text>
<text x="411.20" y="229.80" font-size="8.0" fill="#231f20" stroke="#231f20" stroke-width="0.18">IDH1<tspan dy="-2.48" font-size="4.64" stroke-width="0.08">R132H</tspan></text>
<rect x="379.3" y="250.0" width="29.399999999999977" height="123.30000000000001" fill="url(#h3_0)" mask="url(#m3_0)"/>
<rect x="379.3" y="250.0" width="29.399999999999977" height="123.30000000000001" fill="url(#h3_1)" mask="url(#m3_1)"/>
<rect x="379.3" y="250.0" width="29.399999999999977" height="123.30000000000001" fill="url(#h3_2)" mask="url(#m3_2)"/>
<rect x="379.3" y="250.0" width="29.399999999999977" height="123.30000000000001" fill="url(#h3_3)" mask="url(#m3_3)"/>
<rect x="379.3" y="250.0" width="29.399999999999977" height="123.30000000000001" fill="url(#h3_4)" mask="url(#m3_4)"/>
<rect x="379.3" y="251.0" width="29.399999999999977" height="0.8" fill="#fff" opacity="0.13"/>
<rect x="379.3" y="257.2" width="29.399999999999977" height="0.8" fill="#fff" opacity="0.15"/>
<rect x="379.3" y="259.6" width="29.399999999999977" height="0.8" fill="#fff" opacity="0.24"/>
<rect x="379.3" y="264.5" width="29.399999999999977" height="1.4" fill="#fff" opacity="0.01"/>
<rect x="379.3" y="269.5" width="29.399999999999977" height="0.8" fill="#fff" opacity="0.22"/>
<rect x="379.3" y="278.6" width="29.399999999999977" height="0.8" fill="#fff" opacity="0.02"/>
<rect x="379.3" y="283.0" width="29.399999999999977" height="0.8" fill="#fff" opacity="0.10"/>
<rect x="379.3" y="286.3" width="29.399999999999977" height="1.0" fill="#fff" opacity="0.11"/>
<rect x="379.3" y="289.8" width="29.399999999999977" height="1.0" fill="#fff" opacity="0.30"/>
<rect x="379.3" y="306.3" width="29.399999999999977" height="1.4" fill="#fff" opacity="0.28"/>
<rect x="379.3" y="308.2" width="29.399999999999977" height="1.0" fill="#fff" opacity="0.15"/>
<rect x="379.3" y="310.2" width="29.399999999999977" height="0.8" fill="#fff" opacity="0.05"/>
<rect x="379.3" y="313.5" width="29.399999999999977" height="1.4" fill="#fff" opacity="0.02"/>
<rect x="379.3" y="316.4" width="29.399999999999977" height="1.0" fill="#fff" opacity="0.01"/>
<rect x="379.3" y="321.5" width="29.399999999999977" height="0.8" fill="#fff" opacity="0.22"/>
<rect x="379.3" y="323.8" width="29.399999999999977" height="0.8" fill="#fff" opacity="0.29"/>
<rect x="379.3" y="335.4" width="29.399999999999977" height="0.8" fill="#fff" opacity="0.16"/>
<rect x="379.3" y="344.1" width="29.399999999999977" height="0.8" fill="#fff" opacity="0.04"/>
<rect x="379.3" y="347.0" width="29.399999999999977" height="0.6" fill="#fff" opacity="0.20"/>
<rect x="379.3" y="349.1" width="29.399999999999977" height="1.4" fill="#fff" opacity="0.15"/>
<rect x="379.3" y="351.5" width="29.399999999999977" height="0.8" fill="#fff" opacity="0.06"/>
<rect x="379.3" y="352.8" width="29.399999999999977" height="0.6" fill="#fff" opacity="0.24"/>
<rect x="379.3" y="359.0" width="29.399999999999977" height="0.8" fill="#fff" opacity="0.12"/>
<rect x="379.3" y="361.3" width="29.399999999999977" height="1.4" fill="#fff" opacity="0.28"/>
<rect x="379.3" y="363.2" width="29.399999999999977" height="1.0" fill="#fff" opacity="0.29"/>
<rect x="379.3" y="365.2" width="29.399999999999977" height="0.6" fill="#fff" opacity="0.18"/>
<rect x="379.30" y="233.00" width="29.40" height="140.30" fill="none" stroke="#707070" stroke-width="0.8" />
<polyline points="379.30,249.23 380.04,249.20 380.77,249.17 381.50,249.13 382.24,249.08 382.98,249.02 383.71,248.94 384.44,248.86 385.18,248.75 385.92,248.62 386.65,248.46 387.38,248.25 388.12,247.99 388.86,247.67 389.59,247.27 390.32,246.78 391.06,246.21 391.80,245.59 392.53,245.00 393.26,244.55 394.00,244.39 394.74,244.55 395.47,245.00 396.20,245.59 396.94,246.21 397.68,246.78 398.41,247.27 399.14,247.67 399.88,247.99 400.62,248.25 401.35,248.46 402.08,248.62 402.82,248.75 403.56,248.86 404.29,248.94 405.02,249.02 405.76,249.08 406.50,249.13 407.23,249.17 407.96,249.20 408.70,249.23" fill="none" stroke="#47508f" stroke-width="0.75"/>
<line x1="379.30" y1="250.00" x2="408.70" y2="250.00" stroke="#26262e" stroke-width="1.35" stroke-linecap="butt"/>
<rect x="414.2" y="250.0" width="29.600000000000023" height="123.30000000000001" fill="url(#h4_0)" mask="url(#m4_0)"/>
<rect x="414.2" y="250.0" width="29.600000000000023" height="123.30000000000001" fill="url(#h4_1)" mask="url(#m4_1)"/>
<rect x="414.2" y="250.0" width="29.600000000000023" height="123.30000000000001" fill="url(#h4_2)" mask="url(#m4_2)"/>
<rect x="414.2" y="250.0" width="29.600000000000023" height="123.30000000000001" fill="url(#h4_3)" mask="url(#m4_3)"/>
<rect x="414.2" y="250.0" width="29.600000000000023" height="123.30000000000001" fill="url(#h4_4)" mask="url(#m4_4)"/>
<rect x="414.2" y="262.0" width="29.600000000000023" height="0.6" fill="#fff" opacity="0.17"/>
<rect x="414.2" y="264.1" width="29.600000000000023" height="1.0" fill="#fff" opacity="0.13"/>
<rect x="414.2" y="267.7" width="29.600000000000023" height="0.8" fill="#fff" opacity="0.29"/>
<rect x="414.2" y="271.5" width="29.600000000000023" height="1.4" fill="#fff" opacity="0.01"/>
<rect x="414.2" y="273.4" width="29.600000000000023" height="1.4" fill="#fff" opacity="0.28"/>
<rect x="414.2" y="280.2" width="29.600000000000023" height="1.0" fill="#fff" opacity="0.12"/>
<rect x="414.2" y="286.6" width="29.600000000000023" height="0.6" fill="#fff" opacity="0.13"/>
<rect x="414.2" y="288.2" width="29.600000000000023" height="0.8" fill="#fff" opacity="0.12"/>
<rect x="414.2" y="290.0" width="29.600000000000023" height="0.8" fill="#fff" opacity="0.01"/>
<rect x="414.2" y="295.3" width="29.600000000000023" height="0.6" fill="#fff" opacity="0.02"/>
<rect x="414.2" y="296.9" width="29.600000000000023" height="0.6" fill="#fff" opacity="0.02"/>
<rect x="414.2" y="298.5" width="29.600000000000023" height="1.4" fill="#fff" opacity="0.01"/>
<rect x="414.2" y="308.4" width="29.600000000000023" height="0.6" fill="#fff" opacity="0.06"/>
<rect x="414.2" y="313.0" width="29.600000000000023" height="1.0" fill="#fff" opacity="0.05"/>
<rect x="414.2" y="317.5" width="29.600000000000023" height="1.4" fill="#fff" opacity="0.26"/>
<rect x="414.2" y="326.6" width="29.600000000000023" height="0.8" fill="#fff" opacity="0.06"/>
<rect x="414.2" y="333.0" width="29.600000000000023" height="1.0" fill="#fff" opacity="0.07"/>
<rect x="414.2" y="337.1" width="29.600000000000023" height="1.0" fill="#fff" opacity="0.02"/>
<rect x="414.2" y="344.8" width="29.600000000000023" height="0.8" fill="#fff" opacity="0.13"/>
<rect x="414.2" y="348.6" width="29.600000000000023" height="1.4" fill="#fff" opacity="0.18"/>
<rect x="414.2" y="351.5" width="29.600000000000023" height="1.0" fill="#fff" opacity="0.25"/>
<rect x="414.2" y="353.5" width="29.600000000000023" height="1.0" fill="#fff" opacity="0.08"/>
<rect x="414.2" y="361.3" width="29.600000000000023" height="1.4" fill="#fff" opacity="0.20"/>
<rect x="414.2" y="363.7" width="29.600000000000023" height="0.6" fill="#fff" opacity="0.02"/>
<rect x="414.2" y="368.2" width="29.600000000000023" height="1.0" fill="#fff" opacity="0.23"/>
<rect x="414.2" y="369.7" width="29.600000000000023" height="0.6" fill="#fff" opacity="0.03"/>
<rect x="414.20" y="233.00" width="29.60" height="140.30" fill="none" stroke="#707070" stroke-width="0.8" />
<polyline points="414.20,248.11 414.94,247.99 415.68,247.86 416.42,247.69 417.16,247.50 417.90,247.28 418.64,247.01 419.38,246.68 420.12,246.30 420.86,245.83 421.60,245.26 422.34,244.56 423.08,243.72 423.82,242.71 424.56,241.51 425.30,240.13 426.04,238.61 426.78,237.07 427.52,235.69 428.26,234.71 429.00,234.36 429.74,234.71 430.48,235.69 431.22,237.07 431.96,238.61 432.70,240.13 433.44,241.51 434.18,242.71 434.92,243.72 435.66,244.56 436.40,245.26 437.14,245.83 437.88,246.30 438.62,246.68 439.36,247.01 440.10,247.28 440.84,247.50 441.58,247.69 442.32,247.86 443.06,247.99 443.80,248.11" fill="none" stroke="#47508f" stroke-width="0.75"/>
<line x1="414.20" y1="250.00" x2="443.80" y2="250.00" stroke="#26262e" stroke-width="1.35" stroke-linecap="butt"/>
<line x1="376.10" y1="235.60" x2="379.30" y2="235.60" stroke="#231f20" stroke-width="0.9" stroke-linecap="butt"/>
<text x="375.10" y="238.50" font-size="8.5" text-anchor="end" fill="#231f20" stroke="#231f20" stroke-width="0.18">200</text>
<line x1="376.10" y1="242.80" x2="379.30" y2="242.80" stroke="#231f20" stroke-width="0.9" stroke-linecap="butt"/>
<text x="375.10" y="245.70" font-size="8.5" text-anchor="end" fill="#231f20" stroke="#231f20" stroke-width="0.18">100</text>
<line x1="376.10" y1="250.00" x2="379.30" y2="250.00" stroke="#231f20" stroke-width="0.9" stroke-linecap="butt"/>
<text x="375.10" y="252.90" font-size="8.5" text-anchor="end" fill="#231f20" stroke="#231f20" stroke-width="0.18">0</text>
<text x="383.20" y="379.80" font-size="8.5" text-anchor="end" transform="rotate(-30 383.20 379.80)" fill="#231f20" stroke="#231f20" stroke-width="0.18">−1.5 kb</text>
<text x="395.90" y="380.90" font-size="8.5" text-anchor="end" transform="rotate(-28 395.90 380.90)" fill="#231f20" stroke="#231f20" stroke-width="0.18">TSS</text>
<text x="412.00" y="380.90" font-size="8.5" text-anchor="end" transform="rotate(-28 412.00 380.90)" fill="#231f20" stroke="#231f20" stroke-width="0.18">1.5 kb</text>
<text x="448.20" y="273.40" font-size="8.5" fill="#231f20" stroke="#231f20" stroke-width="0.18">Signal</text>
<rect x="449.20" y="278.40" width="9.00" height="38.00" fill="url(#legF)" />
<text x="460.60" y="283.20" font-size="8.5" fill="#231f20" stroke="#231f20" stroke-width="0.18">400</text>
<text x="460.60" y="292.80" font-size="8.5" fill="#231f20" stroke="#231f20" stroke-width="0.18">300</text>
<text x="460.60" y="302.40" font-size="8.5" fill="#231f20" stroke="#231f20" stroke-width="0.18">200</text>
<text x="460.60" y="311.80" font-size="8.5" fill="#231f20" stroke="#231f20" stroke-width="0.18">100</text>
<text x="460.60" y="321.20" font-size="8.5" fill="#231f20" stroke="#231f20" stroke-width="0.18">0</text>
<text x="0.60" y="408.80" font-size="10.0" font-weight="bold" fill="#231f20" stroke="#231f20" stroke-width="0.18">G</text>
<rect x="21.20" y="418.30" width="90.00" height="67.30" fill="#cfcfcf" />
<g clip-path="url(#c1)">
<rect x="21.2" y="418.3" width="90.0" height="67.3" fill="url(#c1r57)"/>
<circle cx="46.3" cy="420.6" r="1.6" fill="#050505"/>
<circle cx="68.8" cy="441.5" r="1.4" fill="#050505"/>
<circle cx="65.8" cy="448.7" r="2.8" fill="#050505"/>
<circle cx="94.0" cy="441.9" r="1.5" fill="#050505"/>
<circle cx="99.2" cy="448.7" r="2.4" fill="#050505"/>
<circle cx="106.2" cy="451.5" r="3.2" fill="#050505"/>
<circle cx="93.8" cy="456.7" r="3.4" fill="#050505"/>
<circle cx="24.2" cy="460.6" r="4.2" fill="#050505"/>
<circle cx="28.7" cy="466.3" r="1.9" fill="#050505"/>
<circle cx="67.1" cy="473.1" r="2.1" fill="#050505"/>
</g>
<rect x="21.20" y="418.30" width="90.00" height="67.30" fill="none" stroke="#4a4a4a" stroke-width="1.0" />
<text x="66.20" y="412.60" font-size="8.5" text-anchor="middle" fill="#231f20" stroke="#231f20" stroke-width="0.18">Empty</text>
<rect x="117.10" y="417.80" width="90.40" height="67.40" fill="#d3d3d3" />
<g clip-path="url(#c2)">
<rect x="117.1" y="417.8" width="90.4" height="67.4" fill="url(#c2r59)"/>
<circle cx="131.6" cy="427.9" r="3.7" fill="#050505"/>
<circle cx="185.9" cy="434.3" r="3.3" fill="#050505"/>
<circle cx="169.2" cy="442.8" r="3.8" fill="#050505"/>
<circle cx="124.1" cy="449.9" r="2.6" fill="#050505"/>
<circle cx="184.3" cy="473.7" r="3.4" fill="#050505"/>
<circle cx="120.5" cy="474.7" r="1.6" fill="#050505"/>
</g>
<rect x="117.10" y="417.80" width="90.40" height="67.40" fill="none" stroke="#4a4a4a" stroke-width="1.0" />
<text x="162.60" y="413.00" font-size="8.5" text-anchor="middle" fill="#231f20" stroke="#231f20" stroke-width="0.18">IDH1<tspan dy="-2.63" font-size="4.93" stroke-width="0.08">WT</tspan></text>
<rect x="214.20" y="418.30" width="90.50" height="67.60" fill="#d2d2d2" />
<g clip-path="url(#c3)">
<rect x="214.2" y="418.3" width="90.5" height="67.6" fill="url(#c3r61)"/>
<circle cx="236.9" cy="423.6" r="2.1" fill="#050505"/>
<circle cx="232.7" cy="427.8" r="0.9" fill="#050505"/>
<circle cx="254.6" cy="428.4" r="2.9" fill="#050505"/>
<circle cx="250.4" cy="432.7" r="1.9" fill="#050505"/>
<ellipse cx="303.9" cy="432.3" rx="1.6" ry="4.2" fill="#050505" transform="rotate(0 303.9 432.3)"/>
<circle cx="215.6" cy="439.0" r="3.5" fill="#050505"/>
<circle cx="233.5" cy="440.5" r="4.1" fill="#050505"/>
<circle cx="238.5" cy="445.7" r="1.2" fill="#050505"/>
<circle cx="261.3" cy="443.8" r="3.7" fill="#050505"/>
<circle cx="284.6" cy="443.8" r="2.6" fill="#050505"/>
<circle cx="274.4" cy="453.4" r="5.2" fill="#050505"/>
<circle cx="216.5" cy="453.4" r="2.7" fill="#050505"/>
<circle cx="218.5" cy="460.7" r="2.6" fill="#050505"/>
<circle cx="289.8" cy="478.4" r="4.6" fill="#050505"/>
<circle cx="283.0" cy="476.5" r="1.5" fill="#050505"/>
<circle cx="292.7" cy="471.7" r="1.2" fill="#050505"/>
<circle cx="294.6" cy="469.8" r="0.8" fill="#050505"/>
<circle cx="286.0" cy="470.7" r="1.0" fill="#050505"/>
<circle cx="282.0" cy="479.4" r="1.0" fill="#050505"/>
<circle cx="244.2" cy="480.0" r="3.3" fill="#050505"/>
<circle cx="236.0" cy="477.1" r="1.7" fill="#050505"/>
<circle cx="242.7" cy="472.7" r="1.2" fill="#050505"/>
<circle cx="234.6" cy="481.7" r="1.2" fill="#050505"/>
<circle cx="231.2" cy="481.7" r="1.0" fill="#050505"/>
<circle cx="222.5" cy="472.7" r="0.8" fill="#050505"/>
<circle cx="245.6" cy="458.6" r="0.7" fill="#050505"/>
<circle cx="238.8" cy="466.9" r="0.6" fill="#050505"/>
<circle cx="253.8" cy="470.2" r="0.6" fill="#050505"/>
<circle cx="229.2" cy="457.8" r="0.6" fill="#050505"/>
<circle cx="253.3" cy="485.2" r="0.8" fill="#050505"/>
<circle cx="303.3" cy="484.8" r="1.0" fill="#050505"/>
<circle cx="256.9" cy="439.6" r="0.79" fill="#050505"/>
<circle cx="267.0" cy="441.7" r="0.86" fill="#050505"/>
<circle cx="266.3" cy="444.7" r="0.87" fill="#050505"/>
<circle cx="257.3" cy="438.4" r="0.41" fill="#050505"/>
<circle cx="257.1" cy="444.6" r="0.65" fill="#050505"/>
<circle cx="258.3" cy="442.3" r="0.47" fill="#050505"/>
<circle cx="260.1" cy="450.4" r="0.77" fill="#050505"/>
<circle cx="264.7" cy="449.1" r="0.43" fill="#050505"/>
<circle cx="258.5" cy="441.2" r="0.35" fill="#050505"/>
<circle cx="285.8" cy="439.5" r="0.62" fill="#050505"/>
<circle cx="284.4" cy="446.1" r="0.71" fill="#050505"/>
<circle cx="280.4" cy="444.6" r="0.56" fill="#050505"/>
<circle cx="285.0" cy="440.8" r="0.79" fill="#050505"/>
<circle cx="284.2" cy="440.4" r="0.65" fill="#050505"/>
<circle cx="283.4" cy="441.2" r="0.65" fill="#050505"/>
<circle cx="287.5" cy="482.9" r="0.71" fill="#050505"/>
<circle cx="296.4" cy="481.6" r="0.55" fill="#050505"/>
<circle cx="296.5" cy="481.0" r="0.37" fill="#050505"/>
<circle cx="285.6" cy="480.2" r="0.4" fill="#050505"/>
<circle cx="281.7" cy="482.5" r="0.42" fill="#050505"/>
<circle cx="291.1" cy="486.2" r="0.87" fill="#050505"/>
<circle cx="284.0" cy="475.4" r="0.89" fill="#050505"/>
<circle cx="298.7" cy="481.1" r="0.51" fill="#050505"/>
<circle cx="292.8" cy="482.2" r="0.52" fill="#050505"/>
<circle cx="291.9" cy="473.6" r="0.67" fill="#050505"/>
<circle cx="285.7" cy="473.5" r="0.65" fill="#050505"/>
<circle cx="294.0" cy="480.1" r="0.46" fill="#050505"/>
<circle cx="287.0" cy="472.3" r="0.52" fill="#050505"/>
<circle cx="283.9" cy="474.9" r="0.51" fill="#050505"/>
<circle cx="234.6" cy="448.1" r="0.42" fill="#050505"/>
<circle cx="232.4" cy="436.6" r="0.49" fill="#050505"/>
<circle cx="238.0" cy="440.5" r="0.7" fill="#050505"/>
<circle cx="228.1" cy="441.9" r="0.62" fill="#050505"/>
<circle cx="236.0" cy="447.1" r="0.4" fill="#050505"/>
<circle cx="233.9" cy="444.3" r="0.5" fill="#050505"/>
<circle cx="227.3" cy="444.6" r="0.56" fill="#050505"/>
<circle cx="212.5" cy="458.2" r="0.43" fill="#050505"/>
<circle cx="219.9" cy="454.3" r="0.63" fill="#050505"/>
<circle cx="220.6" cy="454.7" r="0.65" fill="#050505"/>
<circle cx="214.7" cy="454.5" r="0.56" fill="#050505"/>
<circle cx="215.9" cy="451.8" r="0.75" fill="#050505"/>
<circle cx="220.0" cy="460.8" r="0.41" fill="#050505"/>
<circle cx="269.2" cy="450.9" r="0.67" fill="#050505"/>
<circle cx="276.3" cy="459.9" r="0.8" fill="#050505"/>
<circle cx="271.5" cy="449.2" r="0.64" fill="#050505"/>
<circle cx="271.9" cy="458.1" r="0.87" fill="#050505"/>
</g>
<rect x="214.20" y="418.30" width="90.50" height="67.60" fill="none" stroke="#4a4a4a" stroke-width="1.0" />
<text x="259.80" y="413.40" font-size="8.5" text-anchor="middle" fill="#231f20" stroke="#231f20" stroke-width="0.18">IDH1<tspan dy="-2.63" font-size="4.93" stroke-width="0.08">R132H</tspan></text>
<rect x="21.20" y="491.20" width="90.00" height="67.80" fill="#e4e4e4" />
<g clip-path="url(#c4)">
<rect x="21.2" y="491.2" width="90.0" height="67.8" fill="url(#c4r63)"/>
<rect x="21.2" y="491.2" width="90.0" height="67.8" filter="url(#c4n)" opacity="0.2"/>
<circle cx="22.9" cy="495.2" r="2.6" fill="#050505"/>
<circle cx="106.3" cy="495.0" r="4.8" fill="#050505"/>
<ellipse cx="97.1" cy="498.8" rx="2.2" ry="3.0" fill="#050505" transform="rotate(15 97.1 498.8)"/>
<ellipse cx="89.0" cy="508.5" rx="3.2" ry="4.2" fill="#050505" transform="rotate(-25 89.0 508.5)"/>
<ellipse cx="23.4" cy="535.0" rx="3.9" ry="7.3" fill="#050505" transform="rotate(0 23.4 535.0)"/>
<circle cx="53.1" cy="539.2" r="4.1" fill="#050505"/>
<circle cx="42.9" cy="550.4" r="4.2" fill="#050505"/>
<ellipse cx="74.2" cy="546.6" rx="1.9" ry="2.6" fill="#050505" transform="rotate(0 74.2 546.6)"/>
<ellipse cx="74.2" cy="544.6" rx="0.9" ry="1.6" fill="#050505" transform="rotate(0 74.2 544.6)"/>
<circle cx="83.8" cy="546.5" r="1.9" fill="#050505"/>
<circle cx="100.0" cy="556.8" r="5.4" fill="#050505"/>
</g>
<rect x="21.20" y="491.20" width="90.00" height="67.80" fill="none" stroke="#4a4a4a" stroke-width="1.0" />
<text x="66.00" y="569.80" font-size="8.5" text-anchor="middle" fill="#231f20" stroke="#231f20" stroke-width="0.18">DMSO</text>
<rect x="117.10" y="491.00" width="90.90" height="68.10" fill="#dcdcdc" />
<g clip-path="url(#c5)">
<rect x="117.1" y="491.0" width="90.9" height="68.1" fill="url(#c5r66)"/>
<rect x="117.1" y="491.0" width="90.9" height="68.1" filter="url(#c5n)" opacity="0.22"/>
<circle cx="196.2" cy="520.3" r="8.2" fill="#050505"/>
<circle cx="199.5" cy="503.7" r="5.5" fill="#050505"/>
<circle cx="189.8" cy="502.8" r="2.8" fill="#050505"/>
<circle cx="182.4" cy="508.3" r="3.3" fill="#050505"/>
<circle cx="178.0" cy="509.6" r="1.6" fill="#050505"/>
<circle cx="186.0" cy="506.4" r="1.8" fill="#050505"/>
<circle cx="184.6" cy="511.6" r="1.7" fill="#050505"/>
<circle cx="176.8" cy="498.2" r="2.0" fill="#050505"/>
<circle cx="174.6" cy="495.8" r="1.0" fill="#050505"/>
<circle cx="178.6" cy="500.6" r="1.0" fill="#050505"/>
<circle cx="196.2" cy="495.4" r="2.1" fill="#050505"/>
<circle cx="191.6" cy="496.3" r="0.9" fill="#050505"/>
<circle cx="183.3" cy="519.4" r="3.0" fill="#050505"/>
<circle cx="180.4" cy="521.6" r="1.4" fill="#050505"/>
<circle cx="182.4" cy="525.8" r="1.1" fill="#050505"/>
<circle cx="163.4" cy="500.0" r="1.3" fill="#050505"/>
<ellipse cx="133.5" cy="492.4" rx="3.4" ry="1.9" fill="#050505" transform="rotate(0 133.5 492.4)"/>
<circle cx="127.0" cy="492.6" r="1.1" fill="#050505"/>
<circle cx="133.5" cy="500.9" r="1.8" fill="#050505"/>
<circle cx="131.6" cy="502.0" r="1.0" fill="#050505"/>
<ellipse cx="138.1" cy="524.6" rx="2.5" ry="1.9" fill="#050505" transform="rotate(-30 138.1 524.6)"/>
<circle cx="135.0" cy="526.6" r="1.0" fill="#050505"/>
<circle cx="132.5" cy="525.0" r="0.7" fill="#050505"/>
<circle cx="135.9" cy="537.3" r="2.8" fill="#050505"/>
<circle cx="117.8" cy="548.6" r="2.6" fill="#050505"/>
<circle cx="170.4" cy="546.2" r="2.7" fill="#050505"/>
<circle cx="168.5" cy="549.8" r="2.0" fill="#050505"/>
<circle cx="166.6" cy="552.0" r="1.4" fill="#050505"/>
<circle cx="163.0" cy="554.8" r="4.3" fill="#050505"/>
<ellipse cx="180.5" cy="554.8" rx="7.4" ry="5.2" fill="#050505" transform="rotate(0 180.5 554.8)"/>
<circle cx="187.6" cy="552.6" r="2.0" fill="#050505"/>
<circle cx="189.8" cy="556.3" r="1.5" fill="#050505"/>
<ellipse cx="128.8" cy="559.2" rx="3.4" ry="2.2" fill="#050505" transform="rotate(0 128.8 559.2)"/>
<circle cx="179.6" cy="548.0" r="1.4" fill="#050505"/>
<circle cx="165.8" cy="544.3" r="0.8" fill="#050505"/>
<circle cx="180.6" cy="543.0" r="0.8" fill="#050505"/>
<circle cx="205.6" cy="508.6" r="1.3" fill="#050505"/>
<circle cx="204.0" cy="497.6" r="1.6" fill="#050505"/>
<circle cx="206.6" cy="493.5" r="1.2" fill="#050505"/>
<circle cx="191.2" cy="512.6" r="1.4" fill="#050505"/>
<circle cx="163.9" cy="530.1" r="0.7" fill="#050505"/>
<circle cx="163.4" cy="536.4" r="0.7" fill="#050505"/>
<circle cx="171.7" cy="538.2" r="0.7" fill="#050505"/>
<circle cx="151.9" cy="549.8" r="0.7" fill="#050505"/>
<circle cx="139.0" cy="497.2" r="0.6" fill="#050505"/>
<circle cx="194.0" cy="557.6" r="1.3" fill="#050505"/>
<circle cx="173.4" cy="557.6" r="1.0" fill="#050505"/>
<circle cx="203.9" cy="520.9" r="0.57" fill="#050505"/>
<circle cx="193.1" cy="513.2" r="0.41" fill="#050505"/>
<circle cx="197.3" cy="529.8" r="0.43" fill="#050505"/>
<circle cx="195.7" cy="511.0" r="0.43" fill="#050505"/>
<circle cx="187.8" cy="518.4" r="0.58" fill="#050505"/>
<circle cx="203.8" cy="520.1" r="0.36" fill="#050505"/>
<circle cx="204.1" cy="517.1" r="0.46" fill="#050505"/>
<circle cx="192.1" cy="527.7" r="0.88" fill="#050505"/>
<circle cx="185.7" cy="510.1" r="0.52" fill="#050505"/>
<circle cx="186.3" cy="505.5" r="0.75" fill="#050505"/>
<circle cx="186.3" cy="511.1" r="0.81" fill="#050505"/>
<circle cx="176.1" cy="507.4" r="0.83" fill="#050505"/>
<circle cx="180.4" cy="510.5" r="0.77" fill="#050505"/>
<circle cx="184.5" cy="510.4" r="0.75" fill="#050505"/>
<circle cx="185.7" cy="503.3" r="0.87" fill="#050505"/>
<circle cx="183.4" cy="511.4" r="0.42" fill="#050505"/>
<circle cx="193.5" cy="500.8" r="0.8" fill="#050505"/>
<circle cx="198.3" cy="510.3" r="0.84" fill="#050505"/>
<circle cx="204.1" cy="500.7" r="0.71" fill="#050505"/>
<circle cx="194.8" cy="499.4" r="0.88" fill="#050505"/>
<circle cx="193.4" cy="502.6" r="0.87" fill="#050505"/>
<circle cx="195.7" cy="499.4" r="0.52" fill="#050505"/>
<circle cx="173.1" cy="553.4" r="0.81" fill="#050505"/>
<circle cx="187.4" cy="549.7" r="0.55" fill="#050505"/>
<circle cx="187.1" cy="552.6" r="0.52" fill="#050505"/>
<circle cx="186.5" cy="558.9" r="0.44" fill="#050505"/>
<circle cx="179.3" cy="562.3" r="0.78" fill="#050505"/>
<circle cx="180.6" cy="549.1" r="0.38" fill="#050505"/>
<circle cx="180.3" cy="562.2" r="0.81" fill="#050505"/>
<circle cx="183.2" cy="546.5" r="0.67" fill="#050505"/>
<circle cx="134.2" cy="523.4" r="0.76" fill="#050505"/>
<circle cx="140.0" cy="522.5" r="0.88" fill="#050505"/>
<circle cx="134.3" cy="522.9" r="0.77" fill="#050505"/>
<circle cx="140.6" cy="523.4" r="0.55" fill="#050505"/>
</g>
<rect x="117.10" y="491.00" width="90.90" height="68.10" fill="none" stroke="#4a4a4a" stroke-width="1.0" />
<text x="162.60" y="569.60" font-size="8.5" text-anchor="middle" fill="#231f20" stroke="#231f20" stroke-width="0.18">KDM5c70</text>
<text x="327.20" y="409.00" font-size="10.0" font-weight="bold" fill="#231f20" stroke="#231f20" stroke-width="0.18">H</text>
<line x1="361.00" y1="418.12" x2="361.00" y2="510.38" stroke="#231f20" stroke-width="1.35" stroke-linecap="butt"/>
<line x1="355.60" y1="418.80" x2="361.00" y2="418.80" stroke="#231f20" stroke-width="1.35" stroke-linecap="butt"/>
<text x="353.40" y="421.86" font-size="8.5" text-anchor="end" fill="#231f20" stroke="#231f20" stroke-width="0.18">3</text>
<line x1="355.60" y1="449.10" x2="361.00" y2="449.10" stroke="#231f20" stroke-width="1.35" stroke-linecap="butt"/>
<text x="353.40" y="452.16" font-size="8.5" text-anchor="end" fill="#231f20" stroke="#231f20" stroke-width="0.18">2</text>
<line x1="355.60" y1="479.40" x2="361.00" y2="479.40" stroke="#231f20" stroke-width="1.35" stroke-linecap="butt"/>
<text x="353.40" y="482.46" font-size="8.5" text-anchor="end" fill="#231f20" stroke="#231f20" stroke-width="0.18">1</text>
<line x1="355.60" y1="509.70" x2="361.00" y2="509.70" stroke="#231f20" stroke-width="1.35" stroke-linecap="butt"/>
<text x="353.40" y="512.76" font-size="8.5" text-anchor="end" fill="#231f20" stroke="#231f20" stroke-width="0.18">0</text>
<text x="343.00" y="464.50" font-size="8.5" text-anchor="middle" transform="rotate(-90 343.00 464.50)" fill="#231f20" stroke="#231f20" stroke-width="0.18">Intensity per well (%)</text>
<line x1="379.30" y1="480.20" x2="379.30" y2="476.30" stroke="#231f20" stroke-width="1.0" stroke-linecap="butt"/>
<line x1="374.80" y1="476.30" x2="383.80" y2="476.30" stroke="#231f20" stroke-width="1.0" stroke-linecap="butt"/>
<rect x="370.30" y="480.20" width="18.00" height="29.50" fill="#231f20" />
<line x1="379.30" y1="509.70" x2="379.30" y2="513.70" stroke="#231f20" stroke-width="1.1" stroke-linecap="butt"/>
<text x="380.10" y="519.90" font-size="8.5" text-anchor="end" transform="rotate(-45 380.10 519.90)" fill="#231f20" stroke="#231f20" stroke-width="0.18">Empty</text>
<line x1="406.20" y1="475.80" x2="406.20" y2="464.20" stroke="#231f20" stroke-width="1.0" stroke-linecap="butt"/>
<line x1="401.70" y1="464.20" x2="410.70" y2="464.20" stroke="#231f20" stroke-width="1.0" stroke-linecap="butt"/>
<rect x="397.20" y="475.80" width="18.00" height="33.90" fill="#231f20" />
<line x1="406.20" y1="509.70" x2="406.20" y2="513.70" stroke="#231f20" stroke-width="1.1" stroke-linecap="butt"/>
<text x="407.00" y="519.90" font-size="8.5" text-anchor="end" transform="rotate(-45 407.00 519.90)" fill="#231f20" stroke="#231f20" stroke-width="0.18">IDH1<tspan dy="-2.63" font-size="4.93" stroke-width="0.08">WT</tspan></text>
<line x1="432.80" y1="450.80" x2="432.80" y2="439.60" stroke="#231f20" stroke-width="1.0" stroke-linecap="butt"/>
<line x1="428.30" y1="439.60" x2="437.30" y2="439.60" stroke="#231f20" stroke-width="1.0" stroke-linecap="butt"/>
<rect x="423.80" y="450.80" width="18.00" height="58.90" fill="#231f20" />
<line x1="432.80" y1="509.70" x2="432.80" y2="513.70" stroke="#231f20" stroke-width="1.1" stroke-linecap="butt"/>
<text x="433.60" y="519.90" font-size="8.5" text-anchor="end" transform="rotate(-45 433.60 519.90)" fill="#231f20" stroke="#231f20" stroke-width="0.18">IDH1<tspan dy="-2.63" font-size="4.93" stroke-width="0.08">R132H</tspan></text>
<line x1="459.80" y1="470.60" x2="459.80" y2="462.30" stroke="#231f20" stroke-width="1.0" stroke-linecap="butt"/>
<line x1="455.30" y1="462.30" x2="464.30" y2="462.30" stroke="#231f20" stroke-width="1.0" stroke-linecap="butt"/>
<rect x="450.80" y="470.60" width="18.00" height="39.10" fill="#231f20" />
<line x1="459.80" y1="509.70" x2="459.80" y2="513.70" stroke="#231f20" stroke-width="1.1" stroke-linecap="butt"/>
<text x="460.60" y="519.90" font-size="8.5" text-anchor="end" transform="rotate(-45 460.60 519.90)" fill="#231f20" stroke="#231f20" stroke-width="0.18">DMSO</text>
<line x1="486.70" y1="447.50" x2="486.70" y2="428.70" stroke="#231f20" stroke-width="1.0" stroke-linecap="butt"/>
<line x1="482.20" y1="428.70" x2="491.20" y2="428.70" stroke="#231f20" stroke-width="1.0" stroke-linecap="butt"/>
<rect x="477.70" y="447.50" width="18.00" height="62.20" fill="#231f20" />
<line x1="486.70" y1="509.70" x2="486.70" y2="513.70" stroke="#231f20" stroke-width="1.1" stroke-linecap="butt"/>
<text x="487.50" y="519.90" font-size="8.5" text-anchor="end" transform="rotate(-45 487.50 519.90)" fill="#231f20" stroke="#231f20" stroke-width="0.18">KDM5c70</text>
<line x1="360.40" y1="509.70" x2="509.60" y2="509.70" stroke="#231f20" stroke-width="1.2" stroke-linecap="butt"/>
<line x1="380.60" y1="414.80" x2="433.60" y2="414.80" stroke="#404041" stroke-width="1.05" stroke-linecap="butt"/>
<text x="386.30" y="412.60" font-size="8.5" fill="#231f20" stroke="#231f20" stroke-width="0.18"><tspan font-style="italic">P</tspan> = 0.0004</text>
<line x1="408.00" y1="431.20" x2="432.60" y2="431.20" stroke="#404041" stroke-width="1.05" stroke-linecap="butt"/>
<text x="401.80" y="429.30" font-size="8.5" fill="#231f20" stroke="#231f20" stroke-width="0.18"><tspan font-style="italic">P</tspan> = 0.004</text>
<line x1="461.00" y1="419.60" x2="487.70" y2="419.60" stroke="#404041" stroke-width="1.05" stroke-linecap="butt"/>
<text x="456.00" y="417.60" font-size="8.5" fill="#231f20" stroke="#231f20" stroke-width="0.18"><tspan font-style="italic">P</tspan> = 0.005</text></svg></body></html>
